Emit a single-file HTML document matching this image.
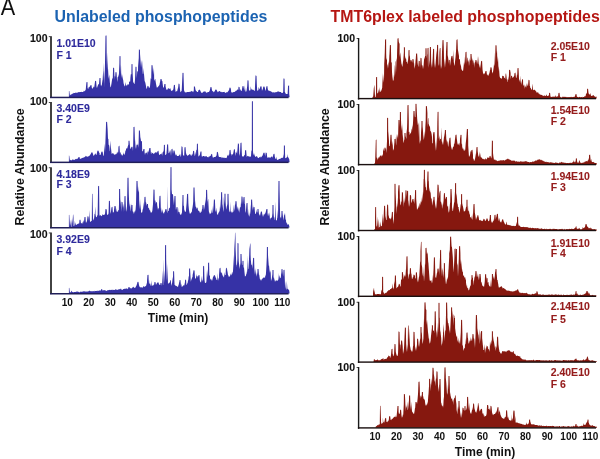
<!DOCTYPE html>
<html><head><meta charset="utf-8"><title>Phosphopeptide chromatograms</title>
<style>html,body{margin:0;padding:0;background:#fff;width:600px;height:459px;overflow:hidden}svg{display:block}</style>
</head><body>
<svg width="600" height="459" viewBox="0 0 600 459"><text transform="translate(0.7,15.4) scale(0.93,1)" style="font-family:'Liberation Sans',Arial,Helvetica,sans-serif;font-size:23.3px" fill="#111">A</text>
<text x="54.6" y="21.6" style="font-family:'Liberation Sans',Arial,Helvetica,sans-serif;font-size:15.9px;font-weight:bold" fill="#1b63b2">Unlabeled phosphopeptides</text>
<text x="330.5" y="21.6" style="font-family:'Liberation Sans',Arial,Helvetica,sans-serif;font-size:15.9px;font-weight:bold" fill="#b51612">TMT6plex labeled phosphopeptides</text>
<path d="M68.9 97.3L68.9 91.0L69.0 91.2L69.0 97.0L69.6 91.0L69.9 91.0L70.0 95.0L70.2 95.2L70.8 94.5L71.4 94.6L72.0 93.7L72.6 93.8L73.2 93.4L73.8 92.7L74.0 93.0L74.4 93.0L75.0 93.0L75.6 92.4L76.2 92.9L76.8 92.5L77.4 92.5L78.0 92.7L78.0 92.4L78.6 92.0L79.2 92.3L79.8 92.1L80.4 92.1L81.0 92.1L81.6 91.8L82.0 92.0L82.2 92.1L82.8 92.1L83.4 91.8L84.0 90.6L84.0 91.6L84.6 91.0L85.2 90.4L85.6 90.0L85.8 88.9L86.4 82.6L86.5 82.0L87.0 82.2L87.5 82.0L87.6 88.7L88.0 88.0L88.2 89.2L88.8 87.1L89.4 87.2L89.6 86.4L90.0 86.4L90.5 85.0L90.6 85.2L91.2 85.3L91.5 85.0L91.8 87.7L92.4 88.6L92.4 89.0L93.0 87.9L93.6 86.7L94.0 86.4L94.2 87.5L94.8 83.3L95.1 81.0L95.4 81.1L96.0 80.7L96.1 81.0L96.6 87.0L97.0 88.0L97.2 87.2L97.8 85.5L98.4 84.6L98.4 84.0L99.0 84.0L99.5 78.0L99.6 78.0L100.2 77.9L100.5 78.0L100.8 85.6L101.4 85.2L101.6 86.4L102.0 83.6L102.5 80.0L102.6 80.2L103.2 70.2L103.5 80.0L103.8 62.4L104.4 82.9L104.4 88.0L105.0 62.8L105.5 35.6L105.6 35.7L106.2 35.5L106.5 35.6L106.8 69.3L107.0 52.0L107.4 60.9L108.0 70.9L108.0 68.0L108.6 78.9L109.2 74.7L109.2 74.0L109.8 81.8L110.4 87.6L110.4 87.6L111.0 86.3L111.6 82.8L112.0 80.0L112.2 79.1L112.8 77.7L113.1 68.0L113.4 67.8L114.0 67.7L114.1 68.0L114.6 79.7L114.8 76.0L115.2 76.7L115.5 72.0L115.8 72.2L116.4 72.3L116.5 72.0L117.0 79.6L117.4 82.0L117.6 77.4L118.2 76.6L118.6 74.0L118.8 77.2L119.4 63.0L119.5 56.0L120.0 56.3L120.5 56.0L120.6 74.1L121.0 64.0L121.2 73.1L121.8 78.1L122.0 74.0L122.4 76.4L123.0 79.5L123.2 80.0L123.6 83.2L124.2 85.2L124.4 86.0L124.8 86.5L125.4 81.9L126.0 86.4L126.0 86.4L126.6 84.9L127.2 85.4L127.6 84.0L127.8 84.6L128.4 84.2L129.0 84.7L129.0 82.0L129.6 81.4L130.2 81.5L130.4 78.0L130.8 74.3L131.4 74.2L131.5 64.0L132.0 64.3L132.5 64.0L132.6 72.7L133.2 82.4L133.2 82.0L133.8 82.9L134.4 83.9L134.6 84.0L135.0 79.7L135.5 67.0L135.6 66.8L136.2 66.7L136.5 67.0L136.8 78.2L137.2 72.0L137.4 71.5L138.0 70.9L138.2 58.0L138.6 66.6L138.9 49.6L139.2 49.7L139.8 49.6L139.9 49.6L140.4 66.3L140.6 54.0L141.0 68.0L141.6 62.5L142.0 60.0L142.2 62.2L142.8 73.7L143.2 74.0L143.4 67.8L144.0 73.7L144.0 74.0L144.6 80.7L145.2 82.4L145.2 82.0L145.8 84.9L146.4 88.4L146.6 89.0L147.0 87.9L147.5 86.0L147.6 85.8L148.2 86.3L148.5 86.0L148.8 87.5L149.4 88.1L149.4 88.0L150.0 86.4L150.6 79.2L150.8 78.0L151.2 79.3L151.5 65.0L151.8 65.2L152.4 65.3L152.5 65.0L153.0 72.0L153.0 67.0L153.6 75.1L154.0 68.0L154.2 81.1L154.8 79.5L155.4 78.8L155.4 80.0L156.0 83.7L156.6 86.7L157.0 88.0L157.2 87.5L157.8 87.0L158.4 86.4L158.4 86.0L159.0 85.8L159.6 84.5L159.6 84.0L160.2 81.2L160.5 79.0L160.8 79.0L161.4 78.9L161.5 79.0L162.0 81.2L162.4 81.0L162.6 83.3L163.2 87.9L163.6 87.0L163.8 87.7L164.4 84.1L164.5 84.0L165.0 84.1L165.5 84.0L165.6 86.6L166.2 88.9L166.4 90.0L166.8 89.4L167.4 89.7L168.0 88.3L168.0 88.0L168.6 88.4L169.2 88.6L169.8 89.0L170.0 89.0L170.0 88.0L170.4 88.5L171.0 90.5L171.6 90.9L171.6 91.0L172.2 90.6L172.8 90.2L173.0 90.0L173.4 88.9L173.9 85.0L174.0 84.7L174.6 85.1L174.9 85.0L175.2 88.6L175.6 92.0L175.8 91.7L176.4 91.1L177.0 91.4L177.2 91.0L177.6 89.3L178.2 87.2L178.5 84.0L178.8 83.6L179.4 84.0L179.5 84.0L180.0 89.7L180.4 92.0L180.6 92.2L181.2 91.3L181.6 91.0L181.8 88.7L182.4 75.7L182.5 73.0L183.0 72.8L183.5 73.0L183.6 77.1L184.0 90.0L184.2 90.8L184.8 92.2L185.4 92.2L185.6 92.4L186.0 92.5L186.6 92.3L187.2 91.9L187.8 92.0L188.0 92.0L188.4 92.0L189.0 92.0L189.6 91.7L190.0 92.0L190.2 91.7L190.8 91.6L191.4 91.2L192.0 90.8L192.0 91.0L192.6 91.8L193.2 91.4L193.2 92.4L193.8 90.4L193.9 86.4L194.4 86.6L194.9 86.4L195.0 86.9L195.6 90.3L195.6 90.0L196.2 91.2L196.8 91.3L197.2 92.0L197.4 91.9L198.0 92.0L198.4 90.4L198.6 90.0L199.2 89.9L199.8 89.5L200.0 89.6L200.4 91.3L201.0 91.7L201.6 93.2L201.6 93.0L202.2 92.7L202.8 92.4L203.2 92.0L203.4 91.6L204.0 91.7L204.6 91.5L205.0 91.0L205.2 91.3L205.8 92.2L206.4 92.6L206.4 93.0L207.0 92.5L207.6 92.2L208.2 92.0L208.4 92.0L208.8 91.9L209.4 91.2L209.6 91.0L210.0 89.6L210.5 87.0L210.6 87.1L211.2 87.3L211.5 87.0L211.8 89.2L212.4 91.6L212.4 91.0L213.0 91.2L213.6 92.1L214.0 92.4L214.2 91.7L214.8 91.1L215.4 89.5L215.5 89.6L216.0 89.7L216.5 89.6L216.6 90.1L217.2 90.9L217.6 92.0L217.8 92.3L218.4 91.8L219.0 91.1L219.6 91.3L220.0 91.0L220.2 91.5L220.8 91.9L221.4 91.8L222.0 92.5L222.0 92.4L222.6 92.0L223.2 92.0L223.8 92.1L224.0 92.0L224.4 91.8L225.0 92.8L225.6 92.7L226.0 93.0L226.2 91.9L226.8 92.6L227.4 92.3L228.0 91.6L228.0 91.6L228.6 90.8L229.2 89.4L229.5 87.6L229.8 87.8L230.4 87.7L230.5 87.6L231.0 89.8L231.2 92.0L231.6 92.4L232.2 92.5L232.8 92.5L233.0 92.4L233.4 92.0L234.0 92.1L234.6 92.0L235.0 91.6L235.2 91.4L235.8 90.8L236.4 90.5L237.0 90.6L237.0 90.0L237.6 89.2L238.2 90.3L238.5 87.0L238.8 86.7L239.4 87.1L239.5 87.0L240.0 90.7L240.0 91.0L240.6 89.1L241.2 91.1L241.6 91.0L241.8 90.5L242.4 86.8L242.5 86.0L243.0 86.3L243.5 86.0L243.6 86.9L244.2 89.7L244.4 91.0L244.8 85.2L245.4 90.7L246.0 92.3L246.0 92.0L246.6 90.4L247.2 85.9L247.5 80.4L247.8 80.2L248.4 80.4L248.5 80.4L249.0 91.1L249.0 91.0L249.6 90.2L250.2 90.4L250.4 90.0L250.8 86.2L251.4 89.7L252.0 89.0L252.0 89.0L252.6 89.9L253.2 89.7L253.6 90.4L253.8 89.4L254.4 91.1L254.8 91.0L255.0 86.6L255.5 75.6L255.6 75.2L256.2 76.0L256.5 75.6L256.8 83.8L257.2 91.0L257.4 90.6L258.0 90.6L258.4 90.0L258.6 86.6L259.2 89.8L259.6 88.0L259.8 89.0L260.4 86.2L260.5 86.4L261.0 86.3L261.5 86.4L261.6 87.0L262.0 91.0L262.2 90.3L262.8 88.9L263.4 86.3L263.5 86.4L264.0 86.7L264.5 86.4L264.6 87.1L265.2 89.7L265.6 91.0L265.8 89.9L266.4 86.6L266.5 86.4L267.0 86.1L267.5 86.4L267.6 88.0L268.0 90.0L268.2 90.3L268.8 90.7L269.4 90.8L270.0 91.2L270.0 91.0L270.6 91.3L271.2 91.4L271.8 92.1L272.0 92.0L272.4 92.2L273.0 92.7L273.6 91.9L274.0 92.6L274.2 92.7L274.8 92.3L275.4 92.3L276.0 92.2L276.0 92.0L276.6 92.2L277.2 91.6L277.8 91.7L278.0 91.4L278.4 91.6L279.0 91.5L279.6 92.0L280.0 92.0L280.2 92.1L280.8 92.0L281.4 92.8L282.0 92.9L282.0 93.0L282.6 92.9L283.2 92.1L283.2 92.0L283.5 78.4L283.8 78.6L284.4 78.7L284.5 78.4L284.8 92.0L285.0 92.3L285.6 93.5L286.0 94.0L286.2 94.0L286.8 93.9L287.4 94.0L287.6 94.0L288.0 87.0L288.1 85.6L288.6 85.7L289.1 85.6L289.2 93.8L289.2 94.0L289.6 97.0L289.6 97.3 Z" fill="#3632a6"/>
<rect x="50.2" y="36.2" width="1.6" height="61.6" fill="#151515"/>
<rect x="50" y="96.7" width="238.6" height="1.5" fill="#201e58"/>
<rect x="48.8" y="36.2" width="1.6" height="0.9" fill="#333"/>
<text x="47.5" y="42.2" text-anchor="end" style="font-family:'Liberation Sans',Arial,Helvetica,sans-serif;font-size:10.5px;font-weight:bold;stroke-width:0.1px" fill="#111" stroke="#111">100</text>
<text x="56.5" y="47.0" style="font-family:'Liberation Sans',Arial,Helvetica,sans-serif;font-size:10.5px;font-weight:bold;stroke-width:0.1px" fill="#2e2a9c" stroke="#2e2a9c">1.01E10</text>
<text x="56.5" y="58.5" style="font-family:'Liberation Sans',Arial,Helvetica,sans-serif;font-size:10.5px;font-weight:bold;stroke-width:0.1px" fill="#2e2a9c" stroke="#2e2a9c">F 1</text>
<path d="M68.9 162.2L68.9 155.6L69.0 155.4L69.0 162.0L69.6 155.9L69.9 155.6L70.0 160.0L70.2 159.8L70.8 160.3L71.4 160.2L72.0 160.3L72.0 160.0L72.6 159.3L73.2 160.1L73.8 159.6L74.4 159.7L75.0 159.9L75.0 159.6L75.6 159.1L76.2 158.7L76.8 159.2L77.0 159.0L77.4 158.8L78.0 158.2L78.5 157.0L78.6 157.2L79.2 157.0L79.5 157.0L79.8 158.4L80.0 159.0L80.4 158.9L81.0 158.2L81.6 158.6L82.0 158.0L82.2 157.7L82.8 158.1L83.4 157.6L84.0 157.4L84.0 157.4L84.6 157.0L85.2 156.7L85.8 155.8L86.0 156.0L86.4 156.3L87.0 156.8L87.6 156.5L88.0 157.0L88.2 156.4L88.8 156.1L89.4 155.6L90.0 155.7L90.0 155.0L90.6 154.2L91.2 153.1L91.5 152.6L91.8 152.3L92.4 152.6L92.5 152.6L93.0 154.3L93.6 155.9L93.6 156.0L94.2 155.2L94.8 154.2L95.0 154.0L95.4 153.2L96.0 154.8L96.4 155.0L96.6 154.6L97.2 151.7L97.5 150.6L97.8 150.8L98.4 150.7L98.5 150.6L99.0 152.4L99.6 153.0L99.6 155.0L100.2 154.7L100.8 154.7L101.0 153.0L101.4 152.0L101.5 151.4L102.0 151.7L102.5 151.4L102.6 151.8L103.2 155.1L103.6 156.0L103.8 156.0L104.4 143.6L105.0 152.7L105.0 153.0L105.6 136.6L106.1 122.0L106.2 122.1L106.8 121.8L107.1 122.0L107.4 126.3L107.6 129.0L108.0 138.8L108.4 139.0L108.6 144.4L109.2 145.6L109.4 147.0L109.8 151.2L110.0 151.0L110.4 140.6L111.0 147.9L111.6 153.8L111.6 154.0L112.2 153.3L112.8 153.4L113.0 153.0L113.4 153.4L114.0 154.5L114.4 155.0L114.6 154.6L115.2 154.2L115.8 154.5L116.0 154.0L116.4 154.2L117.0 152.3L117.6 153.5L117.6 151.4L118.2 152.4L118.5 146.0L118.8 146.4L119.4 145.6L119.5 146.0L120.0 154.3L120.0 153.0L120.6 151.9L121.0 155.0L121.2 155.5L121.8 153.7L122.4 155.9L122.4 156.0L123.0 154.5L123.6 153.5L124.0 152.0L124.2 154.8L124.8 154.4L125.4 150.8L126.0 150.3L126.0 149.0L126.6 148.2L127.2 148.6L127.6 147.0L127.8 146.2L128.4 144.4L128.5 141.0L129.0 140.6L129.5 141.0L129.6 142.0L130.2 148.1L130.4 149.0L130.8 148.4L131.4 146.9L131.5 147.0L132.0 146.6L132.5 147.0L132.6 147.5L133.0 151.0L133.2 142.7L133.5 127.0L133.8 127.0L134.4 126.7L134.5 127.0L135.0 142.3L135.0 139.0L135.6 146.9L136.0 149.0L136.2 147.5L136.5 145.0L136.8 144.6L137.4 145.2L137.5 145.0L138.0 143.3L138.0 148.0L138.6 143.4L138.9 130.6L139.2 130.5L139.8 130.6L139.9 130.6L140.4 139.0L140.4 137.0L141.0 140.9L141.6 141.1L142.0 142.0L142.2 151.2L142.8 151.2L143.0 151.0L143.4 149.2L143.5 149.0L144.0 149.0L144.5 149.0L144.6 152.3L145.0 155.0L145.2 153.9L145.5 153.0L145.8 152.8L146.4 153.2L146.5 153.0L147.0 151.7L147.4 155.0L147.6 151.0L148.2 152.4L148.6 151.0L148.8 150.7L149.4 148.1L149.5 148.0L150.0 147.9L150.5 148.0L150.6 149.7L151.0 154.0L151.2 154.1L151.8 151.8L152.4 153.4L152.4 153.0L153.0 153.0L153.6 154.0L154.0 154.0L154.2 153.6L154.8 152.8L155.4 152.4L155.6 152.0L156.0 152.5L156.6 152.3L157.0 153.0L157.2 152.0L157.5 151.0L157.8 151.4L158.4 150.6L158.5 151.0L159.0 154.2L159.4 155.0L159.6 155.0L160.2 154.3L160.8 153.9L161.0 154.0L161.4 154.4L162.0 152.5L162.4 156.0L162.6 152.4L163.2 151.7L163.6 151.0L163.8 148.9L163.9 145.0L164.4 144.8L164.9 145.0L165.0 150.6L165.2 155.0L165.6 155.0L166.2 154.2L166.4 154.0L166.8 149.6L167.1 144.6L167.4 144.5L168.0 144.3L168.1 144.6L168.6 154.4L168.6 153.0L169.2 152.9L169.5 150.0L169.8 152.3L170.0 152.0L170.4 149.8L170.5 150.0L171.0 156.1L171.0 156.0L171.5 149.0L171.6 149.3L172.2 148.7L172.5 149.0L172.8 152.1L173.0 154.0L173.4 151.4L173.5 150.6L174.0 150.5L174.5 150.6L174.6 151.1L175.2 153.8L175.6 155.0L175.8 155.6L176.4 154.2L177.0 156.3L177.0 156.0L177.6 155.9L178.0 156.0L178.2 155.8L178.8 155.9L179.4 154.9L179.6 155.0L180.0 153.4L180.6 156.3L181.0 157.0L181.2 153.5L181.5 146.6L181.8 146.2L182.4 146.9L182.5 146.6L183.0 155.2L183.0 155.0L183.6 155.6L184.0 156.0L184.2 155.4L184.5 147.0L184.8 147.4L185.4 147.0L185.5 147.0L186.0 153.3L186.0 153.0L186.6 154.8L187.2 155.6L187.6 156.0L187.8 155.6L188.4 155.3L189.0 154.7L189.0 155.0L189.6 154.1L190.0 154.0L190.2 154.3L190.8 155.5L191.4 155.4L191.6 156.0L192.0 153.6L192.4 154.6L192.6 155.3L193.1 151.0L193.2 150.7L193.8 150.9L194.1 151.0L194.4 153.9L194.8 156.0L195.0 156.0L195.6 151.4L196.0 155.0L196.2 150.5L196.8 149.6L196.9 144.0L197.4 143.6L197.9 144.0L198.0 148.6L198.4 156.0L198.6 156.4L199.2 155.9L199.6 155.0L199.8 155.2L200.4 152.1L200.5 152.0L201.0 150.9L201.5 152.0L201.6 155.2L202.0 157.0L202.2 156.6L202.8 156.3L203.4 155.9L203.6 156.0L204.0 155.9L204.6 156.4L205.0 156.6L205.2 156.7L205.8 156.0L206.0 156.0L206.4 156.1L207.0 156.9L207.6 156.9L208.0 157.4L208.2 157.6L208.8 156.5L209.4 156.4L210.0 156.3L210.0 156.0L210.6 155.9L211.1 154.0L211.2 153.8L211.8 154.4L212.1 154.0L212.4 155.9L212.8 157.4L213.0 157.4L213.6 157.4L214.2 157.1L214.4 157.0L214.8 157.1L215.4 156.6L216.0 157.3L216.0 156.0L216.6 155.4L216.9 152.0L217.2 152.3L217.8 151.7L217.9 152.0L218.4 155.0L218.6 156.0L219.0 157.0L219.6 156.9L220.0 157.0L220.2 157.1L220.8 157.2L221.4 156.8L221.6 158.0L222.0 158.2L222.6 157.3L223.0 157.4L223.2 157.8L223.8 157.7L224.4 157.4L224.4 158.2L225.0 157.8L225.6 157.9L226.0 158.0L226.2 158.3L226.8 157.4L227.4 155.1L227.6 156.0L228.0 154.6L228.6 156.3L229.0 154.0L229.2 155.1L229.5 150.0L229.8 150.3L230.4 149.7L230.5 150.0L231.0 154.6L231.2 156.0L231.6 154.1L232.2 154.3L232.8 154.6L232.8 155.0L233.4 152.4L233.9 149.4L234.0 149.7L234.6 149.1L234.9 149.4L235.2 153.9L235.6 156.0L235.8 152.1L236.4 153.2L237.0 150.8L237.0 155.0L237.6 147.7L237.9 143.4L238.2 143.7L238.8 143.5L238.9 143.4L239.4 156.5L239.4 156.0L240.0 153.4L240.5 142.6L240.6 142.9L241.2 142.7L241.5 142.6L241.8 152.5L242.0 156.0L242.4 156.7L243.0 156.0L243.2 157.0L243.6 156.3L244.2 155.4L244.4 155.0L244.8 154.9L245.1 150.0L245.4 150.3L246.0 150.2L246.1 150.0L246.6 155.6L246.8 157.0L247.2 156.3L247.8 155.8L248.0 156.0L248.4 156.2L249.0 156.4L249.0 156.0L249.6 156.8L250.0 157.0L250.2 156.9L250.8 156.2L251.0 156.0L251.4 150.2L251.8 151.0L251.9 101.4L252.0 101.5L252.6 101.1L252.9 101.4L253.0 151.0L253.2 153.2L253.8 155.4L254.0 153.0L254.4 154.8L255.0 156.2L255.6 157.0L255.6 157.0L256.2 156.6L256.8 156.0L257.0 156.0L257.4 157.2L258.0 157.7L258.0 158.0L258.6 157.9L259.2 157.6L259.6 157.0L259.8 157.0L260.4 157.6L261.0 156.1L261.0 157.4L261.6 156.8L262.2 155.7L262.4 156.0L262.8 154.7L263.4 152.9L263.5 152.6L264.0 152.9L264.5 152.6L264.6 153.1L265.2 156.8L265.2 156.0L265.7 152.6L265.8 152.6L266.4 152.9L266.7 152.6L267.0 155.6L267.2 157.0L267.6 158.0L268.2 157.3L268.4 157.4L268.8 157.6L269.4 157.5L270.0 157.6L270.0 158.0L270.6 157.5L271.2 156.2L271.6 157.0L271.8 156.7L272.4 156.5L273.0 158.1L273.0 156.0L273.5 154.0L273.6 154.0L274.2 153.7L274.5 154.0L274.8 156.8L275.2 158.0L275.4 159.0L276.0 158.5L276.6 156.5L276.6 159.0L277.2 159.7L277.8 160.1L278.0 160.0L278.4 159.5L279.0 159.0L279.6 158.8L279.6 159.0L280.2 158.9L280.8 158.2L281.0 158.0L281.4 157.7L282.0 158.2L282.0 158.0L282.6 157.7L283.2 157.6L283.2 157.0L283.8 153.9L283.9 145.4L284.4 145.4L284.9 145.4L285.0 152.0L285.2 158.0L285.6 158.2L286.2 157.8L286.4 157.4L286.8 157.6L287.4 156.8L288.0 154.1L288.0 157.0L288.6 158.1L289.2 158.9L289.2 159.0L289.6 162.0L289.6 162.2 Z" fill="#3632a6"/>
<rect x="50.2" y="102.0" width="1.6" height="60.7" fill="#151515"/>
<rect x="50" y="161.6" width="238.6" height="1.5" fill="#201e58"/>
<rect x="48.8" y="102.0" width="1.6" height="0.9" fill="#333"/>
<text x="47.5" y="105.1" text-anchor="end" style="font-family:'Liberation Sans',Arial,Helvetica,sans-serif;font-size:10.5px;font-weight:bold;stroke-width:0.1px" fill="#111" stroke="#111">100</text>
<text x="56.5" y="112.2" style="font-family:'Liberation Sans',Arial,Helvetica,sans-serif;font-size:10.5px;font-weight:bold;stroke-width:0.1px" fill="#2e2a9c" stroke="#2e2a9c">3.40E9</text>
<text x="56.5" y="123.2" style="font-family:'Liberation Sans',Arial,Helvetica,sans-serif;font-size:10.5px;font-weight:bold;stroke-width:0.1px" fill="#2e2a9c" stroke="#2e2a9c">F 2</text>
<path d="M68.9 227.6L68.9 215.0L69.0 214.7L69.0 227.6L69.6 214.7L69.9 215.0L70.0 227.0L70.2 219.7L70.8 225.7L71.4 218.9L71.6 227.0L72.0 225.8L72.5 214.4L72.6 224.6L72.6 224.0L73.2 214.8L73.5 214.4L73.6 226.0L73.8 226.0L74.4 225.6L75.0 220.2L75.0 225.6L75.6 222.2L76.0 225.0L76.2 224.8L76.8 224.7L77.4 224.1L77.6 224.0L78.0 223.7L78.6 223.7L79.0 223.0L79.2 223.7L79.5 220.0L79.8 219.7L80.4 219.7L80.5 220.0L81.0 223.7L81.0 223.0L81.6 223.2L82.2 223.8L82.8 221.6L83.0 224.0L83.4 220.1L84.0 221.9L84.0 222.0L84.5 217.0L84.6 217.1L85.2 217.0L85.5 217.0L85.8 221.8L86.0 223.0L86.4 222.3L87.0 221.0L87.0 221.0L87.5 216.4L87.6 216.2L88.2 216.5L88.5 216.4L88.8 219.1L89.0 221.0L89.4 210.1L90.0 222.1L90.0 222.0L90.6 221.7L91.0 221.0L91.2 220.8L91.8 221.3L91.9 194.0L92.0 218.0L92.4 193.7L92.9 194.0L93.0 218.1L93.0 218.0L93.6 220.5L94.0 219.0L94.2 217.3L94.5 214.0L94.8 214.0L95.4 206.2L95.5 214.0L96.0 216.9L96.4 217.0L96.6 217.6L97.2 215.4L97.6 215.0L97.8 205.2L98.1 186.0L98.4 186.3L99.0 185.8L99.1 186.0L99.4 214.0L99.6 215.7L100.2 215.2L100.4 215.0L100.8 215.6L101.4 216.2L101.6 216.0L102.0 215.8L102.6 214.1L103.0 215.0L103.2 215.0L103.8 214.8L104.0 215.0L104.4 214.7L105.0 214.1L105.0 214.0L105.5 209.0L105.6 209.0L106.2 209.3L106.5 209.0L106.8 210.5L107.0 215.0L107.4 214.8L108.0 214.6L108.4 214.0L108.6 211.9L108.9 201.0L109.2 200.8L109.8 200.9L109.9 201.0L110.4 214.0L110.4 214.0L111.0 211.4L111.5 207.0L111.6 207.4L112.2 206.7L112.5 207.0L112.8 211.4L113.0 213.0L113.4 212.3L114.0 211.6L114.0 210.0L114.5 206.0L114.6 206.1L115.2 206.0L115.5 206.0L115.8 207.5L116.0 212.0L116.4 211.3L117.0 208.1L117.0 211.0L117.6 211.7L118.0 212.0L118.2 210.3L118.8 210.1L119.0 204.0L119.1 189.0L119.4 189.1L120.0 188.9L120.1 189.0L120.4 204.0L120.6 199.3L121.2 211.7L121.2 212.0L121.5 202.0L121.8 201.7L122.4 202.3L122.5 202.0L123.0 208.1L123.0 208.0L123.6 203.5L124.0 212.0L124.2 207.6L124.5 196.0L124.8 196.3L125.4 196.0L125.5 196.0L126.0 211.7L126.0 212.0L126.6 209.4L127.0 206.0L127.2 195.5L127.5 177.6L127.8 177.9L128.4 177.7L128.5 177.6L128.8 194.0L129.0 199.0L129.6 206.9L130.0 203.0L130.2 205.8L130.8 211.6L131.0 210.0L131.4 203.0L131.5 205.0L132.0 205.1L132.5 205.0L132.6 210.5L133.0 212.0L133.2 211.5L133.8 213.6L134.0 214.0L134.4 210.7L135.0 212.8L135.0 212.0L135.6 209.6L136.0 204.0L136.2 194.9L136.5 181.0L136.8 181.1L137.4 180.9L137.5 181.0L138.0 191.5L138.0 186.0L138.6 192.4L139.0 190.0L139.2 200.2L139.8 209.2L140.0 204.0L140.4 210.5L141.0 198.4L141.0 213.0L141.6 212.5L142.0 212.0L142.2 212.4L142.8 208.6L143.0 210.0L143.4 202.0L144.0 208.4L144.0 206.0L144.5 197.0L144.6 196.9L145.2 196.8L145.5 197.0L145.8 202.4L146.0 202.0L146.4 204.0L147.0 205.9L147.0 204.0L147.6 204.1L148.0 204.0L148.2 208.6L148.8 207.4L149.0 208.0L149.4 209.7L150.0 210.4L150.0 210.0L150.6 212.0L151.0 213.0L151.2 212.5L151.8 212.2L152.0 212.0L152.4 210.2L153.0 204.0L153.0 204.0L153.5 189.6L153.6 189.4L154.2 189.8L154.5 189.6L154.8 201.0L155.0 200.0L155.4 201.0L156.0 204.2L156.0 202.0L156.6 202.4L157.0 202.0L157.2 205.3L157.8 208.8L158.0 210.0L158.4 208.4L159.0 207.8L159.0 204.0L159.5 196.0L159.6 196.0L160.2 195.7L160.5 196.0L160.8 207.4L161.0 210.0L161.4 213.2L162.0 206.9L162.0 213.0L162.6 208.9L163.0 212.0L163.2 212.7L163.8 213.4L164.0 214.0L164.4 212.1L165.0 211.5L165.0 211.0L165.5 209.0L165.6 209.1L166.2 209.3L166.5 209.0L166.8 211.1L167.0 212.0L167.4 212.9L168.0 185.9L168.0 211.0L168.6 210.9L169.0 208.0L169.2 207.8L169.8 208.6L170.0 207.0L170.0 210.0L170.4 177.2L170.5 167.0L171.0 167.3L171.5 167.0L171.6 189.6L172.0 194.0L172.2 194.2L172.8 194.3L173.0 194.0L173.4 199.6L174.0 205.6L174.0 204.0L174.5 196.0L174.6 196.1L175.2 195.9L175.5 196.0L175.8 208.9L176.0 210.0L176.4 208.0L176.5 207.0L177.0 207.3L177.5 207.0L177.6 208.7L178.0 214.0L178.2 207.3L178.5 212.0L178.8 211.7L179.4 212.3L179.5 212.0L180.0 214.4L180.0 214.0L180.6 214.7L181.0 215.0L181.2 214.4L181.8 213.1L182.0 212.0L182.4 199.8L182.5 195.0L183.0 194.9L183.5 195.0L183.6 205.5L184.0 206.0L184.2 209.5L184.8 211.3L185.0 212.0L185.4 211.7L186.0 211.3L186.0 210.0L186.6 203.0L187.1 193.6L187.2 193.9L187.8 193.9L188.1 193.6L188.4 203.2L188.6 206.0L189.0 210.2L189.6 213.1L190.0 214.0L190.2 213.6L190.8 213.2L191.0 213.0L191.4 212.2L192.0 211.3L192.0 210.0L192.6 207.0L193.0 204.0L193.2 201.4L193.5 187.6L193.8 187.6L194.4 187.4L194.5 187.6L195.0 203.0L195.0 200.0L195.6 206.4L196.0 207.0L196.2 209.3L196.8 207.3L197.4 207.7L197.6 208.0L198.0 210.2L198.6 210.7L199.0 211.0L199.2 210.9L199.8 212.4L200.0 213.0L200.4 213.0L201.0 211.3L201.0 212.0L201.6 211.5L202.0 209.0L202.2 209.3L202.5 205.0L202.8 205.1L203.4 205.1L203.5 205.0L204.0 211.1L204.0 210.0L204.6 206.5L205.0 204.0L205.2 202.9L205.8 199.3L206.0 196.0L206.1 190.0L206.4 189.7L207.0 190.0L207.1 190.0L207.6 206.3L207.6 202.0L208.2 198.5L208.8 210.6L209.0 212.0L209.4 212.7L210.0 214.4L210.0 214.0L210.6 213.4L211.0 213.0L211.2 208.9L211.8 213.2L212.0 213.0L212.4 212.6L213.0 205.8L213.0 212.0L213.6 205.0L213.9 199.6L214.2 199.8L214.8 199.3L214.9 199.6L215.4 211.4L215.6 210.0L216.0 212.6L216.6 207.4L217.0 214.0L217.2 214.2L217.8 214.8L218.0 215.0L218.4 211.9L219.0 213.3L219.0 212.0L219.6 211.1L220.0 206.0L220.2 209.3L220.8 200.2L221.0 199.0L221.1 192.0L221.4 192.3L222.0 192.3L222.1 192.0L222.4 204.0L222.6 204.9L223.2 210.0L223.6 212.0L223.8 196.5L224.4 204.2L224.4 204.0L224.5 194.0L225.0 193.6L225.5 194.0L225.6 201.9L226.0 208.0L226.2 209.8L226.8 206.2L227.0 206.0L227.4 203.7L227.5 194.0L228.0 193.7L228.5 194.0L228.6 199.0L229.0 208.0L229.2 210.5L229.8 212.3L230.0 212.0L230.4 211.2L231.0 201.4L231.0 211.0L231.6 212.2L232.0 213.0L232.2 212.5L232.8 212.1L233.4 204.3L233.6 212.0L234.0 211.3L234.6 208.3L235.0 204.0L235.2 205.1L235.5 201.0L235.8 201.2L236.4 201.3L236.5 201.0L237.0 209.3L237.0 206.0L237.6 208.1L238.0 210.0L238.2 211.2L238.8 207.0L239.0 213.0L239.4 210.9L240.0 207.1L240.0 207.0L240.6 207.4L241.0 202.0L241.2 204.6L241.5 196.4L241.8 196.6L242.4 196.8L242.5 196.4L243.0 204.7L243.0 204.0L243.5 197.0L243.6 197.3L244.2 197.0L244.5 197.0L244.8 203.9L245.0 204.0L245.4 211.1L246.0 213.1L246.0 210.0L246.5 203.0L246.6 203.2L247.2 203.0L247.5 203.0L247.8 212.0L248.0 214.0L248.4 216.0L249.0 208.5L249.0 217.0L249.6 215.2L250.0 212.0L250.2 214.4L250.8 206.1L251.0 204.0L251.1 199.6L251.4 199.5L252.0 199.8L252.1 199.6L252.4 206.0L252.6 210.8L253.2 204.8L253.2 210.0L253.5 207.0L253.8 207.2L254.4 207.0L254.5 207.0L255.0 212.8L255.0 213.0L255.6 214.0L256.0 214.0L256.2 209.2L256.8 212.4L257.0 212.0L257.4 212.8L257.5 209.0L258.0 208.9L258.5 209.0L258.6 210.7L259.0 214.0L259.2 214.3L259.8 215.5L260.0 216.0L260.4 213.8L261.0 211.3L261.0 211.0L261.6 211.7L262.0 212.0L262.2 213.7L262.8 216.0L263.0 217.0L263.4 215.7L264.0 213.7L264.0 214.0L264.6 214.8L265.0 213.0L265.2 213.7L265.8 211.8L266.0 211.0L266.4 209.1L266.5 209.0L267.0 209.2L267.5 209.0L267.6 216.0L268.0 213.0L268.2 213.3L268.8 215.8L269.0 216.0L269.4 211.9L270.0 219.6L270.0 220.0L270.6 218.1L271.0 218.0L271.2 217.9L271.8 217.2L272.0 217.0L272.4 213.2L272.5 205.0L273.0 205.0L273.5 205.0L273.6 213.0L274.0 218.0L274.2 216.6L274.8 220.0L275.0 220.0L275.4 201.5L276.0 221.1L276.0 221.0L276.6 220.1L277.0 220.0L277.2 209.5L277.8 218.6L278.0 218.0L278.4 188.1L278.5 181.0L279.0 180.9L279.5 181.0L279.6 190.8L280.0 210.0L280.2 217.2L280.8 217.5L281.0 219.0L281.4 215.1L281.5 211.0L282.0 210.9L282.5 211.0L282.6 213.2L283.0 217.0L283.2 217.4L283.8 220.6L284.0 214.0L284.4 215.8L285.0 212.6L285.0 213.0L285.6 220.3L286.0 219.0L286.2 223.7L286.8 222.0L287.0 223.0L287.4 224.7L288.0 224.4L288.0 224.0L288.6 224.5L289.0 225.0L289.2 226.1L289.6 227.6L289.6 227.6 Z" fill="#3632a6"/>
<rect x="50.2" y="167.3" width="1.6" height="60.8" fill="#151515"/>
<rect x="50" y="227.0" width="238.6" height="1.5" fill="#201e58"/>
<rect x="48.8" y="167.3" width="1.6" height="0.9" fill="#333"/>
<text x="47.5" y="172.1" text-anchor="end" style="font-family:'Liberation Sans',Arial,Helvetica,sans-serif;font-size:10.5px;font-weight:bold;stroke-width:0.1px" fill="#111" stroke="#111">100</text>
<text x="56.5" y="177.5" style="font-family:'Liberation Sans',Arial,Helvetica,sans-serif;font-size:10.5px;font-weight:bold;stroke-width:0.1px" fill="#2e2a9c" stroke="#2e2a9c">4.18E9</text>
<text x="56.5" y="188.2" style="font-family:'Liberation Sans',Arial,Helvetica,sans-serif;font-size:10.5px;font-weight:bold;stroke-width:0.1px" fill="#2e2a9c" stroke="#2e2a9c">F 3</text>
<path d="M68.9 293.6L68.9 288.0L69.0 288.1L69.0 293.4L69.6 287.8L69.9 288.0L70.0 292.6L70.2 292.2L70.8 292.3L71.4 290.6L72.0 291.8L72.0 292.2L72.6 291.8L73.2 292.4L73.8 292.0L74.0 292.0L74.4 292.0L75.0 292.1L75.6 292.0L76.0 291.8L76.2 291.7L76.8 291.4L77.4 291.8L78.0 291.3L78.0 291.6L78.6 292.0L79.2 292.2L79.8 292.3L80.0 292.0L80.4 291.7L81.0 291.6L81.6 292.1L82.0 291.6L82.2 291.3L82.8 291.9L83.4 291.3L84.0 291.2L84.0 291.4L84.6 291.2L85.2 291.5L85.8 291.5L86.0 291.8L86.4 291.5L87.0 291.6L87.6 291.5L88.0 291.4L88.2 291.4L88.8 291.0L89.4 290.8L90.0 290.7L90.0 291.0L90.6 291.2L91.2 291.2L91.8 291.3L92.0 291.2L92.4 291.3L93.0 291.2L93.6 291.1L94.0 291.4L94.2 291.4L94.8 290.8L95.4 291.0L96.0 290.9L96.0 291.0L96.6 291.0L97.2 290.6L97.8 291.2L98.0 290.8L98.4 291.0L99.0 290.5L99.6 290.4L100.0 290.6L100.2 290.6L100.8 290.5L101.0 290.2L101.1 289.0L101.4 289.2L102.0 289.3L102.1 289.0L102.4 290.6L102.6 290.5L103.2 290.2L103.8 290.3L104.0 290.2L104.4 290.1L105.0 290.5L105.6 290.3L106.0 291.0L106.2 290.9L106.8 290.8L107.4 290.6L108.0 289.8L108.0 290.0L108.6 290.3L109.2 290.0L109.8 289.8L110.0 290.2L110.4 289.8L111.0 290.2L111.6 289.7L112.0 289.8L112.2 289.5L112.8 290.2L113.4 289.7L114.0 289.9L114.0 290.0L114.6 290.1L115.2 289.5L115.8 289.2L116.0 289.6L116.4 289.4L117.0 289.9L117.6 289.8L118.0 289.8L118.2 289.3L118.8 289.5L119.4 289.2L120.0 289.1L120.0 289.4L120.6 288.8L121.0 288.6L121.2 289.1L121.8 290.0L122.0 290.0L122.4 289.9L123.0 289.2L123.6 289.1L124.0 289.0L124.2 288.6L124.8 288.9L125.4 288.8L126.0 288.5L126.0 288.6L126.6 288.6L127.2 288.5L127.8 289.2L128.0 289.0L128.4 287.3L128.5 287.0L129.0 287.2L129.5 287.0L129.6 287.3L130.0 288.6L130.2 287.8L130.8 288.5L131.4 288.3L132.0 288.6L132.0 288.2L132.6 287.2L133.0 287.0L133.2 287.3L133.8 286.6L134.0 288.0L134.4 288.0L135.0 287.2L135.6 287.7L136.0 286.0L136.2 286.3L136.8 284.6L137.0 284.0L137.4 282.2L137.5 282.0L138.0 281.8L138.5 282.0L138.6 282.7L139.0 285.0L139.2 285.7L139.8 287.2L140.0 287.0L140.4 287.4L141.0 287.2L141.0 287.4L141.6 286.9L142.0 288.0L142.2 287.4L142.8 287.4L143.0 287.0L143.4 286.4L144.0 285.8L144.0 286.0L144.6 286.9L145.0 287.0L145.2 285.9L145.8 286.3L146.0 286.0L146.4 284.7L147.0 282.4L147.0 281.0L147.5 274.6L147.6 275.0L148.2 274.9L148.5 274.6L148.8 283.7L149.0 279.0L149.4 284.3L150.0 283.0L150.0 283.0L150.6 285.3L151.0 286.0L151.2 285.9L151.8 280.3L152.0 285.0L152.4 285.4L153.0 286.0L153.0 286.0L153.6 284.6L154.0 285.0L154.2 284.0L154.5 282.0L154.8 281.9L155.4 282.2L155.5 282.0L156.0 285.2L156.0 285.0L156.6 283.7L157.0 283.0L157.2 282.8L157.8 282.6L158.0 282.0L158.4 282.6L159.0 284.0L159.0 284.0L159.6 285.0L160.0 285.0L160.2 284.9L160.5 283.0L160.8 282.9L161.4 282.9L161.5 283.0L162.0 286.1L162.0 286.0L162.6 270.2L163.0 285.0L163.2 285.3L163.8 259.0L164.0 283.0L164.4 277.0L165.0 270.1L165.0 259.0L165.1 245.0L165.6 245.3L166.1 245.0L166.2 265.2L166.2 259.0L166.8 278.6L167.0 281.0L167.4 263.5L168.0 284.4L168.0 284.0L168.6 283.2L169.0 283.0L169.2 282.9L169.8 282.3L170.0 282.0L170.0 282.0L170.4 280.4L171.0 279.8L171.0 286.0L171.6 284.3L172.0 283.0L172.2 282.4L172.8 276.7L173.0 279.0L173.1 271.4L173.4 271.0L174.0 271.4L174.1 271.4L174.4 281.0L174.6 284.7L175.2 285.5L175.2 285.0L175.8 286.0L176.0 286.0L176.4 286.2L177.0 285.8L177.0 286.0L177.6 286.9L178.0 287.0L178.2 285.9L178.8 284.2L179.0 283.0L179.4 281.5L179.5 280.0L180.0 280.2L180.5 280.0L180.6 281.5L181.0 286.0L181.2 283.2L181.8 287.0L182.0 287.0L182.4 286.4L183.0 285.7L183.0 286.0L183.6 285.2L184.0 285.0L184.2 285.8L184.8 283.1L185.0 282.0L185.1 280.0L185.4 279.6L186.0 279.9L186.1 280.0L186.4 285.0L186.6 285.1L187.2 283.6L187.6 283.0L187.8 281.7L188.4 279.2L188.6 277.0L189.0 275.7L189.1 268.4L189.6 268.6L190.1 268.4L190.2 270.9L190.6 278.0L190.8 281.7L191.4 279.6L191.6 279.0L192.0 278.0L192.6 276.5L192.6 275.0L193.2 272.3L193.5 270.0L193.8 270.4L194.4 270.4L194.5 270.0L195.0 277.8L195.0 278.0L195.6 278.4L196.0 279.0L196.2 273.9L196.8 276.7L197.0 276.0L197.4 276.1L198.0 277.9L198.0 277.0L198.5 275.0L198.6 275.2L199.2 275.3L199.5 275.0L199.8 279.9L200.0 281.0L200.4 281.9L201.0 282.6L201.0 283.0L201.6 275.8L202.0 282.0L202.2 280.9L202.8 279.3L203.0 275.0L203.1 266.0L203.4 265.7L204.0 266.4L204.1 266.0L204.4 277.0L204.6 280.6L205.0 283.0L205.2 282.8L205.8 282.9L206.0 283.0L206.4 281.6L207.0 270.2L207.0 278.0L207.6 272.4L208.0 269.0L208.1 262.6L208.2 262.8L208.8 262.7L209.1 262.6L209.4 276.5L209.4 275.0L210.0 276.1L210.0 278.0L210.6 279.8L211.0 279.0L211.2 279.2L211.8 280.6L212.0 281.0L212.4 279.8L213.0 277.1L213.0 277.0L213.6 276.2L214.0 275.0L214.2 275.1L214.8 275.6L215.0 275.4L215.4 276.7L216.0 278.3L216.0 278.0L216.6 279.9L217.0 280.0L217.2 280.2L217.8 272.9L218.0 281.0L218.4 279.1L219.0 277.6L219.0 275.0L219.5 268.0L219.6 268.4L220.2 267.7L220.5 268.0L220.8 272.7L221.0 272.0L221.4 273.5L222.0 271.9L222.0 273.0L222.6 276.1L223.0 275.0L223.2 276.6L223.8 277.0L224.0 278.0L224.4 272.0L225.0 276.0L225.0 275.0L225.6 275.1L225.9 268.0L226.0 270.0L226.2 268.0L226.8 267.8L226.9 268.0L227.4 271.7L227.4 271.0L228.0 274.9L228.2 275.0L228.6 276.3L229.0 277.0L229.2 276.7L229.8 276.2L230.0 276.0L230.4 273.3L231.0 275.8L231.0 274.0L231.6 275.6L232.0 272.0L232.2 271.7L232.8 274.2L233.0 271.0L233.4 254.7L234.0 271.0L234.0 267.0L234.5 232.6L234.6 257.0L234.6 249.0L235.2 232.9L235.5 232.6L235.6 249.0L235.8 253.1L236.4 267.6L236.6 265.0L237.0 264.5L237.4 259.0L237.5 243.4L237.6 243.1L238.2 243.3L238.5 243.4L238.6 257.0L238.8 261.5L239.4 266.7L239.6 269.0L240.0 266.0L240.4 263.0L240.5 254.0L240.6 253.9L241.2 254.0L241.5 254.0L241.8 262.3L242.0 265.0L242.4 264.7L242.5 261.0L243.0 260.7L243.5 261.0L243.6 267.9L244.0 267.0L244.2 269.4L244.8 275.1L245.0 277.0L245.4 275.8L246.0 276.0L246.0 275.0L246.6 273.5L247.0 271.0L247.2 255.3L247.8 272.6L248.0 269.0L248.4 268.7L249.0 259.3L249.0 259.0L249.5 243.4L249.6 261.1L249.6 249.0L250.2 243.6L250.5 243.4L250.6 255.0L250.8 259.5L251.4 265.9L251.4 265.0L252.0 264.4L252.0 269.0L252.6 265.1L252.8 263.0L253.1 258.0L253.2 257.8L253.8 258.1L254.1 258.0L254.4 269.6L254.4 269.0L255.0 274.8L255.0 275.0L255.6 268.0L256.0 274.0L256.2 276.7L256.8 273.8L257.0 272.0L257.4 274.7L257.5 269.0L258.0 268.9L258.5 269.0L258.6 270.0L259.0 275.0L259.2 274.6L259.8 278.8L260.0 279.0L260.4 279.6L261.0 280.8L261.0 281.0L261.6 279.5L262.0 279.0L262.2 279.2L262.8 278.1L263.0 278.0L263.4 277.8L264.0 277.3L264.0 277.0L264.6 277.8L265.0 278.0L265.2 276.3L265.8 275.1L266.0 273.0L266.4 265.9L266.8 257.0L266.9 247.0L267.0 247.1L267.6 247.1L267.9 247.0L268.0 255.0L268.2 258.2L268.8 266.3L269.0 265.0L269.4 269.2L270.0 273.1L270.0 273.0L270.6 270.2L271.0 281.0L271.2 280.5L271.8 278.5L272.0 277.0L272.4 274.1L272.5 270.0L273.0 270.1L273.5 270.0L273.6 278.4L274.0 277.0L274.2 278.7L274.8 280.8L275.0 282.0L275.4 281.1L276.0 280.3L276.0 280.0L276.6 280.6L277.0 281.0L277.2 280.8L277.8 280.5L278.0 280.0L278.4 279.4L279.0 272.8L279.0 279.0L279.6 275.0L280.0 277.0L280.2 277.8L280.8 278.2L281.0 275.0L281.4 272.2L281.5 269.0L282.0 269.3L282.5 269.0L282.6 271.3L283.0 275.0L283.2 276.6L283.5 270.0L283.8 270.1L284.4 269.7L284.5 270.0L285.0 285.9L285.0 281.0L285.6 287.1L285.6 287.0L286.2 290.1L286.6 288.0L286.8 280.8L287.4 288.8L288.0 289.0L288.0 289.0L288.6 289.7L289.0 290.0L289.2 290.5L289.6 293.4L289.6 293.6 Z" fill="#3632a6"/>
<rect x="50.2" y="232.5" width="1.6" height="61.6" fill="#151515"/>
<rect x="50" y="293.0" width="238.6" height="1.5" fill="#201e58"/>
<rect x="48.8" y="232.5" width="1.6" height="0.9" fill="#333"/>
<text x="47.5" y="237.7" text-anchor="end" style="font-family:'Liberation Sans',Arial,Helvetica,sans-serif;font-size:10.5px;font-weight:bold;stroke-width:0.1px" fill="#111" stroke="#111">100</text>
<text x="56.5" y="243.2" style="font-family:'Liberation Sans',Arial,Helvetica,sans-serif;font-size:10.5px;font-weight:bold;stroke-width:0.1px" fill="#2e2a9c" stroke="#2e2a9c">3.92E9</text>
<text x="56.5" y="254.5" style="font-family:'Liberation Sans',Arial,Helvetica,sans-serif;font-size:10.5px;font-weight:bold;stroke-width:0.1px" fill="#2e2a9c" stroke="#2e2a9c">F 4</text>
<path d="M372.0 98.5L372.0 97.2L372.0 98.4L372.6 97.3L373.0 96.4L373.2 96.6L373.8 88.3L374.4 84.7L375.0 96.0L375.0 97.3L375.6 96.9L376.0 94.0L376.1 77.0L376.2 77.3L376.8 77.1L377.1 77.0L377.2 92.0L377.4 93.5L378.0 93.0L378.0 93.6L378.6 89.1L379.0 92.4L379.2 91.9L379.8 87.0L380.0 91.6L380.4 92.2L381.0 90.0L381.0 91.3L381.6 89.7L382.0 88.4L382.2 87.7L382.8 72.7L383.0 83.0L383.4 79.7L383.6 74.0L384.0 80.5L384.2 64.0L384.6 56.4L384.8 52.0L385.1 39.0L385.2 39.4L385.8 39.4L386.1 39.0L386.2 54.0L386.4 60.2L387.0 58.0L387.0 69.1L387.6 64.0L387.6 65.6L388.2 62.8L388.4 61.0L388.8 68.4L389.4 54.0L389.4 55.4L389.9 45.0L390.0 45.3L390.6 44.9L390.9 45.0L391.2 60.0L391.2 61.8L391.8 62.9L392.0 72.0L392.4 76.7L393.0 81.0L393.0 81.1L393.6 80.0L394.0 74.0L394.2 77.4L394.8 65.8L395.0 65.0L395.4 75.1L395.6 62.0L396.0 60.7L396.4 58.0L396.6 72.3L397.2 48.0L397.2 49.5L397.5 38.4L397.8 38.5L398.4 38.1L398.5 38.4L398.8 42.0L399.0 42.5L399.6 44.0L399.6 57.3L400.2 52.3L400.4 54.0L400.8 58.3L401.0 60.0L401.4 63.4L401.6 64.0L402.0 65.7L402.4 67.0L402.6 65.1L403.2 60.0L403.2 61.5L403.8 52.0L403.8 60.8L403.9 47.0L404.4 47.4L404.9 47.0L405.0 58.8L405.2 56.0L405.6 59.1L406.0 58.0L406.2 61.7L406.8 62.0L406.8 58.2L407.4 63.7L407.6 64.0L408.0 61.0L408.4 56.0L408.5 50.0L408.6 50.2L409.2 49.9L409.5 50.0L409.6 56.0L409.8 55.2L410.4 62.0L410.4 63.0L410.5 60.0L411.0 60.2L411.5 60.0L411.6 60.8L412.0 62.0L412.2 62.8L412.5 59.0L412.8 58.9L413.4 59.2L413.5 59.0L414.0 64.0L414.0 62.3L414.6 69.0L414.6 68.7L415.2 65.1L415.6 60.0L415.8 58.4L416.1 53.6L416.4 53.8L417.0 53.2L417.1 53.6L417.4 58.0L417.6 62.7L418.2 66.9L418.4 66.0L418.7 61.0L418.8 60.7L419.4 61.1L419.7 61.0L420.0 68.0L420.0 68.6L420.5 58.0L420.6 57.8L421.2 58.3L421.5 58.0L421.8 64.2L422.0 66.0L422.4 64.8L423.0 69.0L423.0 69.2L423.6 65.2L424.0 60.0L424.2 56.8L424.8 59.6L425.0 56.0L425.4 56.1L425.5 48.0L426.0 48.4L426.5 48.0L426.6 52.0L426.6 58.6L427.2 53.6L427.4 66.0L427.5 48.0L427.8 48.2L428.4 47.7L428.5 48.0L428.8 68.0L429.0 65.6L429.6 60.0L429.6 61.6L429.9 47.0L430.2 46.9L430.8 47.0L430.9 47.0L431.2 62.0L431.4 64.0L432.0 68.0L432.0 68.1L432.6 59.6L432.8 56.0L433.1 49.0L433.2 48.8L433.8 49.1L434.1 49.0L434.2 58.0L434.4 62.7L435.0 68.0L435.0 68.3L435.6 63.7L436.0 58.0L436.2 56.1L436.8 50.0L436.8 53.7L437.1 45.0L437.4 44.9L438.0 44.7L438.1 45.0L438.2 54.0L438.6 64.2L439.0 66.0L439.2 63.1L439.5 48.0L439.6 52.0L439.8 48.3L440.4 47.9L440.5 48.0L440.6 64.0L441.0 69.0L441.0 68.9L441.6 65.7L442.0 52.0L442.2 48.0L442.5 40.4L442.8 40.1L443.4 40.1L443.5 40.4L443.8 48.0L444.0 58.2L444.4 62.0L444.6 64.0L445.0 68.0L445.2 65.0L445.8 59.1L446.0 52.0L446.4 44.7L446.5 42.0L447.0 42.0L447.5 42.0L447.6 50.0L447.6 55.1L448.2 57.9L448.4 64.0L448.7 60.0L448.8 59.6L449.4 59.9L449.7 60.0L450.0 66.0L450.0 65.9L450.6 61.4L451.0 58.0L451.2 57.4L451.5 56.0L451.8 56.0L452.4 55.7L452.5 56.0L453.0 60.0L453.0 60.5L453.6 49.8L453.8 62.0L454.2 64.4L454.6 66.0L454.8 64.0L455.4 58.0L455.4 58.7L456.0 51.3L456.2 48.0L456.5 39.6L456.6 39.9L457.2 39.3L457.5 39.6L457.8 48.0L457.8 49.1L458.4 52.4L459.0 56.0L459.0 59.2L459.6 59.0L460.0 60.0L460.2 63.5L460.8 65.4L461.0 66.0L461.4 69.2L462.0 70.0L462.0 69.9L462.6 71.0L463.0 71.0L463.2 70.0L463.8 64.5L464.0 62.0L464.4 65.0L465.0 56.0L465.0 63.6L465.5 52.0L465.6 52.3L466.2 51.7L466.5 52.0L466.8 64.0L467.0 58.0L467.4 57.6L468.0 62.0L468.0 62.3L468.6 59.8L469.0 66.0L469.2 64.7L469.8 57.9L470.0 60.0L470.4 60.8L470.5 54.0L471.0 54.1L471.5 54.0L471.6 55.5L472.0 60.0L472.2 61.0L472.8 57.9L473.0 66.0L473.1 64.0L473.4 59.6L474.0 63.8L474.1 64.0L474.4 68.0L474.6 62.9L475.2 62.0L475.2 62.3L475.5 60.0L475.8 59.9L476.4 60.2L476.5 60.0L477.0 64.0L477.0 64.4L477.6 60.9L478.0 56.0L478.0 56.0L478.2 57.4L478.8 64.5L479.0 64.0L479.4 66.0L480.0 68.0L480.0 69.1L480.6 65.3L480.8 64.0L481.1 61.0L481.2 60.7L481.8 61.2L482.1 61.0L482.4 66.9L482.6 70.0L483.0 72.7L483.6 74.0L483.6 74.2L484.2 74.2L484.6 73.0L484.8 73.5L485.4 71.5L485.5 71.0L486.0 70.9L486.5 71.0L486.6 72.1L487.0 75.0L487.2 75.6L487.8 74.0L488.0 76.0L488.4 75.5L489.0 74.0L489.0 74.3L489.6 72.2L490.0 70.0L490.2 70.1L490.5 67.0L490.8 67.4L491.4 67.4L491.5 67.0L492.0 71.0L492.0 73.7L492.6 72.2L493.0 72.0L493.2 70.7L493.8 66.5L494.0 64.0L494.4 66.2L495.0 52.0L495.0 64.3L495.5 45.0L495.6 45.2L496.2 45.4L496.5 45.0L496.8 53.5L497.0 50.0L497.4 62.2L498.0 56.0L498.0 57.1L498.6 71.2L498.8 66.0L499.2 70.8L499.6 76.0L499.8 77.0L500.4 78.2L500.8 78.0L501.0 78.2L501.6 78.5L502.0 79.0L502.2 75.5L502.7 76.0L502.8 76.1L503.4 76.1L503.7 76.0L504.0 77.7L504.4 78.0L504.6 77.3L505.2 79.2L505.6 74.0L505.8 73.7L506.0 73.0L506.4 75.7L506.8 79.0L507.0 80.3L507.6 82.0L507.6 79.1L508.2 79.9L508.6 76.0L508.8 79.4L509.1 70.0L509.4 69.8L510.0 70.1L510.1 70.0L510.6 73.0L510.6 79.4L511.2 75.6L511.8 76.0L512.0 76.0L512.4 77.4L513.0 78.0L513.0 77.6L513.6 77.0L514.0 76.0L514.2 76.1L514.5 73.0L514.8 73.2L515.4 72.6L515.5 73.0L516.0 78.0L516.0 77.9L516.6 77.5L517.0 74.0L517.2 75.7L517.5 68.0L517.8 68.2L518.4 68.0L518.5 68.0L518.8 74.0L519.0 79.1L519.6 80.6L520.0 82.0L520.2 75.5L520.8 83.4L521.0 81.0L521.4 85.1L522.0 80.0L522.0 80.2L522.6 79.0L523.0 79.0L523.2 86.1L523.8 85.0L524.0 84.0L524.4 85.8L525.0 89.0L525.0 85.0L525.6 87.6L526.0 86.0L526.2 88.0L526.8 82.9L527.0 85.0L527.4 86.3L528.0 83.0L528.0 86.2L528.5 80.0L528.6 79.8L529.2 80.2L529.5 80.0L529.8 86.0L530.0 86.0L530.4 88.3L531.0 88.0L531.0 89.3L531.6 89.8L532.0 89.0L532.2 83.5L532.8 87.6L533.0 90.0L533.4 90.2L534.0 89.6L534.0 89.3L534.6 89.9L535.0 90.0L535.2 90.2L535.8 91.3L536.0 91.0L536.4 92.1L537.0 93.0L537.0 93.1L537.6 92.3L538.0 92.0L538.2 92.6L538.8 94.0L539.0 93.0L539.4 94.4L540.0 94.0L540.0 94.3L540.6 94.8L541.0 95.0L541.2 94.9L541.8 94.7L542.0 95.0L542.4 95.3L543.0 96.0L543.0 95.8L543.6 96.1L544.0 95.6L544.2 95.3L544.8 95.7L545.0 96.0L545.4 95.7L546.0 96.0L546.0 95.9L546.6 94.3L547.0 95.6L547.2 96.1L547.8 95.9L548.0 96.0L548.4 95.7L549.0 95.0L549.0 96.4L549.1 93.0L549.6 92.8L550.1 93.0L550.2 94.0L550.4 96.0L550.8 97.1L551.2 97.0L551.4 96.7L552.0 97.0L552.0 96.6L552.6 96.7L553.2 96.9L553.8 96.3L554.0 96.6L554.4 96.6L555.0 97.0L555.6 94.9L556.0 97.0L556.2 96.6L556.8 96.8L557.4 96.4L558.0 96.0L558.0 96.9L558.5 93.0L558.6 93.0L559.2 92.8L559.5 93.0L559.8 95.2L560.0 97.0L560.4 96.8L561.0 97.5L561.6 97.6L562.0 97.2L562.2 97.3L562.8 96.4L563.4 96.8L564.0 97.0L564.0 97.1L564.6 96.8L565.2 96.7L565.8 96.9L566.0 97.2L566.4 96.8L567.0 97.4L567.6 97.1L568.0 97.0L568.2 97.1L568.8 97.2L569.4 97.1L570.0 97.2L570.0 97.3L570.6 97.1L571.2 96.7L571.8 97.3L572.0 97.0L572.4 97.1L573.0 97.2L573.6 96.8L574.0 97.0L574.2 96.7L574.8 96.8L575.0 96.0L575.4 94.8L575.5 94.0L576.0 94.3L576.5 94.0L576.6 95.1L577.0 97.0L577.2 97.1L577.8 96.8L578.0 97.2L578.4 97.3L579.0 97.3L579.6 96.7L580.0 97.0L580.2 97.4L580.8 97.1L581.4 97.0L582.0 97.2L582.0 96.4L582.6 97.5L583.2 96.9L583.8 96.9L584.0 97.0L584.4 96.4L585.0 96.0L585.0 96.6L585.6 96.1L586.0 94.0L586.2 93.4L586.8 93.6L587.0 92.0L587.1 89.0L587.4 88.8L588.0 88.8L588.1 89.0L588.4 92.0L588.6 93.4L589.2 94.0L589.2 94.3L589.8 94.6L590.0 95.0L590.4 92.7L591.0 96.0L591.0 96.2L591.6 95.8L592.0 96.0L592.2 95.9L592.8 95.3L593.0 95.0L593.4 95.1L594.0 96.0L594.0 96.3L594.6 96.3L595.0 96.4L595.2 96.6L595.8 97.3L596.0 97.0L596.4 96.3L596.8 98.4L596.8 98.5 Z" fill="#86180f"/>
<rect x="357.9" y="38.0" width="1.4" height="61.5" fill="#1a1a1a"/>
<rect x="357.9" y="97.9" width="238.1" height="1.4" fill="#1a1010"/>
<rect x="356.6" y="38.0" width="1.5" height="0.9" fill="#333"/>
<text x="355" y="41.5" text-anchor="end" style="font-family:'Liberation Sans',Arial,Helvetica,sans-serif;font-size:10.5px;font-weight:bold;stroke-width:0.1px" fill="#111" stroke="#111">100</text>
<text x="550.7" y="50.3" style="font-family:'Liberation Sans',Arial,Helvetica,sans-serif;font-size:10.5px;font-weight:bold;stroke-width:0.1px" fill="#951c1c" stroke="#951c1c">2.05E10</text>
<text x="550.7" y="60.8" style="font-family:'Liberation Sans',Arial,Helvetica,sans-serif;font-size:10.5px;font-weight:bold;stroke-width:0.1px" fill="#951c1c" stroke="#951c1c">F 1</text>
<path d="M374.0 164.5L374.0 164.1L374.0 164.0L374.6 163.6L375.0 163.0L375.2 158.5L375.5 140.0L375.6 161.0L375.8 140.1L376.4 139.6L376.5 140.0L376.6 157.0L377.0 158.2L377.4 159.0L377.6 160.6L378.0 157.0L378.2 156.9L378.8 158.7L379.0 158.0L379.4 157.1L380.0 156.0L380.0 155.7L380.6 155.8L381.0 155.0L381.2 155.2L381.8 156.8L382.0 156.0L382.4 155.6L383.0 154.0L383.0 151.8L383.6 148.1L384.0 151.0L384.2 151.2L384.5 148.0L384.8 147.6L385.4 147.7L385.5 148.0L386.0 150.0L386.0 153.2L386.6 148.8L387.0 141.0L387.1 118.0L387.2 118.1L387.8 117.8L388.1 118.0L388.2 131.0L388.4 133.2L389.0 141.0L389.0 146.2L389.6 145.9L390.0 143.0L390.2 139.9L390.5 135.0L390.8 134.7L391.4 134.8L391.5 135.0L392.0 145.0L392.0 145.8L392.6 140.8L393.0 151.0L393.2 150.1L393.8 149.0L394.0 147.0L394.4 142.3L394.5 139.0L395.0 139.1L395.5 139.0L395.6 136.5L396.0 144.0L396.2 145.5L396.8 133.5L397.0 138.0L397.4 133.9L398.0 139.0L398.0 140.0L398.5 120.0L398.6 119.9L399.2 119.9L399.5 120.0L399.8 127.0L399.8 128.3L399.9 112.0L400.4 111.9L400.9 112.0L401.0 119.6L401.2 125.0L401.6 127.9L402.0 131.0L402.2 123.1L402.8 139.0L402.8 134.1L403.4 142.2L403.6 143.0L404.0 140.8L404.4 139.0L404.5 133.0L404.6 133.0L405.2 132.9L405.5 133.0L405.6 136.0L405.8 136.8L406.4 139.0L406.4 134.0L407.0 128.7L407.2 123.0L407.5 105.0L407.6 105.3L408.2 105.0L408.5 105.0L408.8 121.0L408.8 132.0L409.4 131.8L409.6 135.0L410.0 134.3L410.4 133.0L410.6 133.5L411.2 132.0L411.6 129.0L411.8 129.5L412.4 125.0L412.4 131.4L413.0 122.7L413.2 119.0L413.5 111.0L413.6 111.0L414.2 111.0L414.5 111.0L414.8 116.5L415.0 117.0L415.4 117.3L415.5 104.0L416.0 103.7L416.5 104.0L416.6 106.8L417.0 115.0L417.2 119.1L417.8 124.7L418.0 125.0L418.4 122.2L419.0 137.0L419.0 120.2L419.6 141.4L420.0 144.0L420.2 141.6L420.8 139.9L421.0 133.0L421.4 127.1L421.5 121.0L422.0 121.0L422.5 121.0L422.6 126.3L423.0 131.0L423.2 134.8L423.8 140.0L424.0 139.0L424.4 135.8L425.0 131.0L425.0 134.7L425.6 121.0L425.6 126.6L425.9 106.0L426.2 106.2L426.8 106.1L426.9 106.0L427.4 113.0L427.4 127.7L428.0 118.5L428.4 118.0L428.6 123.9L429.2 125.0L429.2 126.3L429.8 126.3L430.0 127.0L430.4 131.6L431.0 131.0L431.0 131.6L431.6 134.1L432.0 137.0L432.2 143.5L432.8 142.9L433.0 135.0L433.4 132.3L433.5 132.0L434.0 132.3L434.5 132.0L434.6 133.8L435.0 141.0L435.2 143.0L435.8 149.4L436.0 151.0L436.4 145.4L437.0 137.0L437.0 145.1L437.5 112.0L437.6 121.0L437.6 111.9L438.2 111.7L438.5 112.0L438.6 125.0L438.8 138.9L439.4 135.0L439.4 141.5L440.0 137.0L440.0 138.4L440.6 139.2L441.0 139.0L441.2 127.0L441.8 142.0L442.0 141.0L442.4 143.0L443.0 145.0L443.0 145.2L443.6 140.5L444.0 137.0L444.2 136.6L444.8 132.5L444.9 130.0L445.4 129.9L445.9 130.0L446.0 132.8L446.4 141.0L446.6 138.9L447.2 145.0L447.2 142.7L447.8 140.5L448.0 147.0L448.4 146.0L449.0 141.0L449.0 141.8L449.5 138.0L449.6 137.9L450.2 137.6L450.5 138.0L450.8 143.9L451.0 146.0L451.4 147.7L452.0 150.0L452.0 150.2L452.6 148.6L453.0 147.0L453.2 146.6L453.8 146.7L454.0 143.0L454.4 144.5L455.0 139.0L455.0 139.2L455.5 135.0L455.6 135.0L456.2 134.6L456.5 135.0L456.8 138.7L457.0 140.0L457.4 143.3L458.0 145.0L458.0 145.2L458.6 143.9L459.0 143.0L459.2 142.7L459.8 146.1L460.0 139.0L460.4 136.2L460.5 135.0L461.0 134.7L461.5 135.0L461.6 144.8L462.0 143.0L462.2 146.7L462.8 149.2L463.0 148.0L463.4 149.0L464.0 151.0L464.0 151.2L464.6 150.2L465.0 149.0L465.2 150.6L465.8 142.6L466.0 141.0L466.4 137.0L466.9 129.0L467.0 128.9L467.6 129.1L467.9 129.0L468.2 141.0L468.2 145.6L468.8 154.5L469.0 157.0L469.4 156.3L470.0 155.0L470.0 155.0L470.6 150.4L471.0 152.0L471.2 151.5L471.5 150.0L471.8 150.0L472.4 149.7L472.5 150.0L473.0 155.0L473.0 158.2L473.6 158.9L474.0 161.0L474.2 160.9L474.8 159.4L475.0 159.0L475.4 156.8L476.0 153.0L476.0 154.8L476.5 147.0L476.6 147.3L477.2 146.9L477.5 147.0L477.8 153.5L478.0 151.0L478.0 154.0L478.4 156.0L479.0 157.0L479.0 156.8L479.6 151.2L480.0 159.0L480.2 152.7L480.8 157.2L481.0 157.0L481.4 157.4L482.0 158.0L482.0 157.9L482.6 159.0L483.0 159.0L483.2 158.8L483.8 159.3L484.0 159.4L484.4 159.4L485.0 159.0L485.0 159.0L485.6 158.0L486.0 160.0L486.2 159.3L486.8 159.0L487.0 158.6L487.4 157.7L488.0 157.0L488.0 157.1L488.6 158.0L489.0 158.0L489.2 157.9L489.5 156.0L489.8 156.3L490.4 155.8L490.5 156.0L491.0 158.0L491.0 158.8L491.6 157.0L491.6 158.1L491.9 140.6L492.2 140.7L492.8 140.8L492.9 140.6L493.0 153.0L493.4 156.4L494.0 160.0L494.0 159.9L494.6 159.4L495.0 159.4L495.2 159.5L495.8 160.4L496.0 160.6L496.4 160.3L497.0 160.8L497.6 161.2L498.0 161.0L498.2 160.6L498.8 161.0L499.4 160.7L500.0 160.2L500.0 160.1L500.6 160.4L501.2 160.3L501.8 160.4L502.0 160.0L502.4 160.4L503.0 160.3L503.6 160.1L504.0 160.6L504.2 160.4L504.8 160.4L505.4 160.1L506.0 159.4L506.0 159.5L506.6 159.5L507.0 159.0L507.2 159.2L507.8 158.4L508.0 158.6L508.4 158.9L509.0 159.4L509.0 159.2L509.6 159.4L510.0 160.0L510.2 159.8L510.8 160.2L511.4 160.4L512.0 161.0L512.0 161.0L512.6 160.6L513.2 160.7L513.8 160.6L514.0 160.6L514.4 160.6L515.0 161.3L515.6 161.5L516.0 161.4L516.2 161.3L516.8 161.2L517.4 161.4L518.0 162.0L518.0 161.8L518.6 161.5L519.2 161.9L519.8 161.4L520.0 161.6L520.4 161.2L521.0 161.6L521.6 161.5L522.0 161.4L522.2 161.4L522.8 161.8L523.4 161.5L524.0 161.8L524.0 161.5L524.6 161.4L525.2 161.2L525.8 161.2L526.0 161.0L526.4 161.3L527.0 161.7L527.6 161.7L528.0 162.0L528.2 162.1L528.8 161.9L529.4 162.3L530.0 162.6L530.0 162.2L530.6 162.1L531.2 162.0L531.8 162.2L532.0 162.0L532.4 161.6L533.0 161.4L533.6 161.7L534.0 161.4L534.2 161.3L534.8 161.2L535.4 160.6L536.0 160.6L536.0 160.8L536.6 160.4L537.2 160.2L537.8 159.5L538.0 159.4L538.4 159.5L539.0 159.8L539.0 159.6L539.6 159.2L540.0 159.4L540.2 159.5L540.8 160.2L541.0 160.2L541.4 160.2L542.0 159.4L542.0 159.7L542.6 160.7L543.0 161.0L543.2 161.4L543.8 160.6L544.0 161.4L544.4 161.3L545.0 161.9L545.6 161.7L546.0 162.0L546.2 161.6L546.8 162.3L547.4 161.9L548.0 162.2L548.0 162.5L548.6 162.1L549.2 162.7L549.8 162.2L550.0 162.4L550.4 162.2L551.0 162.2L551.6 162.5L552.0 162.6L552.2 162.4L552.8 162.7L553.4 162.9L554.0 162.6L554.0 163.0L554.6 163.0L555.2 162.6L555.8 162.4L556.0 162.8L556.4 162.5L557.0 163.1L557.6 162.7L558.0 163.0L558.2 163.3L558.8 163.2L559.4 162.6L560.0 162.6L560.0 162.3L560.6 162.8L561.2 162.3L561.8 161.8L562.0 162.0L562.4 162.4L563.0 162.6L563.0 162.6L563.6 162.6L564.0 162.8L564.2 162.5L564.8 163.1L565.4 162.7L566.0 163.0L566.0 163.2L566.6 162.9L567.2 163.1L567.8 163.0L568.0 163.0L568.4 162.9L569.0 163.2L569.6 162.8L570.0 163.0L570.2 162.6L570.8 162.9L571.4 162.7L572.0 163.0L572.0 162.2L572.6 162.6L573.2 162.1L573.8 160.0L574.0 162.6L574.4 161.2L575.0 162.8L575.6 161.0L575.6 162.1L575.9 158.6L576.2 158.5L576.8 158.2L576.9 158.6L577.0 161.0L577.4 162.5L578.0 162.8L578.0 163.0L578.6 162.6L579.2 160.6L579.8 160.5L580.0 163.0L580.4 162.5L581.0 162.6L581.6 163.3L582.0 163.0L582.2 163.1L582.8 162.5L583.4 162.4L584.0 162.6L584.0 162.8L584.6 161.8L585.2 161.5L585.8 161.5L586.0 161.0L586.4 161.1L587.0 161.4L587.0 161.8L587.6 160.9L588.0 160.0L588.2 160.4L588.8 158.6L589.0 158.0L589.1 154.6L589.4 155.0L590.0 154.7L590.1 154.6L590.4 158.0L590.6 159.8L591.2 162.0L591.2 161.8L591.8 158.6L592.0 162.2L592.4 161.9L593.0 162.0L593.0 162.3L593.6 161.7L594.0 162.6L594.2 162.5L594.8 162.9L595.4 162.9L596.0 163.0L596.0 163.0L596.6 163.3L597.0 164.0L597.0 164.5 Z" fill="#86180f"/>
<rect x="357.9" y="104.0" width="1.4" height="61.5" fill="#1a1a1a"/>
<rect x="357.9" y="163.9" width="238.1" height="1.4" fill="#1a1010"/>
<rect x="356.6" y="104.0" width="1.5" height="0.9" fill="#333"/>
<text x="355" y="107.9" text-anchor="end" style="font-family:'Liberation Sans',Arial,Helvetica,sans-serif;font-size:10.5px;font-weight:bold;stroke-width:0.1px" fill="#111" stroke="#111">100</text>
<text x="550.7" y="114.0" style="font-family:'Liberation Sans',Arial,Helvetica,sans-serif;font-size:10.5px;font-weight:bold;stroke-width:0.1px" fill="#951c1c" stroke="#951c1c">1.54E10</text>
<text x="550.7" y="124.8" style="font-family:'Liberation Sans',Arial,Helvetica,sans-serif;font-size:10.5px;font-weight:bold;stroke-width:0.1px" fill="#951c1c" stroke="#951c1c">F 2</text>
<path d="M374.0 230.4L374.0 215.5L374.0 230.0L374.6 229.3L375.0 229.0L375.1 207.0L375.2 217.0L375.2 207.3L375.8 207.1L376.1 207.0L376.2 219.0L376.4 225.4L377.0 227.0L377.0 227.0L377.6 216.3L378.0 228.0L378.2 227.5L378.8 218.8L379.4 227.2L380.0 227.0L380.0 227.7L380.6 221.2L381.0 226.0L381.2 226.3L381.8 225.9L382.0 225.0L382.4 213.2L383.0 223.0L383.0 224.2L383.6 217.0L383.6 218.2L384.1 206.0L384.2 205.6L384.8 206.0L385.1 206.0L385.4 215.0L385.4 215.7L386.0 219.0L386.0 220.0L386.6 219.7L386.8 213.0L387.1 205.0L387.2 204.6L387.8 204.7L388.1 205.0L388.4 213.0L388.4 214.5L389.0 217.0L389.0 217.4L389.6 218.8L390.0 218.0L390.2 218.3L390.8 219.5L391.0 219.0L391.4 217.2L391.6 216.0L391.9 212.0L392.0 212.2L392.6 211.7L392.9 212.0L393.0 219.0L393.2 220.3L393.6 224.0L393.8 220.3L394.4 207.0L394.4 216.7L394.5 184.0L395.0 183.8L395.5 184.0L395.6 191.0L395.6 192.4L396.2 206.3L396.4 207.0L396.8 214.0L397.2 203.0L397.4 207.3L398.0 197.0L398.0 192.0L398.5 185.0L398.6 185.3L399.2 185.3L399.5 185.0L399.8 195.0L399.8 197.9L400.4 205.0L400.4 205.5L401.0 204.1L401.2 201.0L401.6 202.2L401.9 192.0L402.2 192.4L402.8 192.3L402.9 192.0L403.2 199.0L403.4 201.0L404.0 207.0L404.0 203.6L404.6 200.8L405.0 197.0L405.2 201.0L405.5 190.6L405.8 190.3L406.4 190.6L406.5 190.6L406.8 197.0L407.0 193.5L407.1 191.0L407.6 190.8L408.1 191.0L408.2 200.2L408.4 201.0L408.8 204.8L409.0 207.0L409.4 205.1L409.6 203.0L409.9 195.0L410.0 195.0L410.6 195.2L410.9 195.0L411.2 197.0L411.2 201.3L411.8 203.3L412.0 201.0L412.4 199.6L412.5 199.0L413.0 199.1L413.5 199.0L413.6 200.9L414.0 202.0L414.2 204.1L414.8 197.0L414.8 199.7L415.1 190.0L415.4 190.0L416.0 190.3L416.1 190.0L416.2 199.0L416.6 204.1L417.0 210.0L417.2 209.4L417.8 208.6L418.0 208.0L418.4 207.5L419.0 205.0L419.0 207.9L419.6 203.7L420.0 203.0L420.2 205.6L420.8 201.5L421.0 201.0L421.4 202.8L422.0 197.0L422.0 194.0L422.6 201.3L423.0 191.0L423.2 194.5L423.6 179.0L423.8 179.1L423.9 170.0L424.4 169.7L424.9 170.0L425.0 187.4L425.2 179.0L425.6 187.6L426.0 187.0L426.2 190.6L426.8 190.1L427.0 185.0L427.4 174.5L427.5 171.4L428.0 171.4L428.5 171.4L428.6 181.3L428.8 181.0L429.2 191.8L429.6 187.0L429.8 190.9L430.4 193.0L430.4 189.2L431.0 198.3L431.2 199.0L431.6 197.8L432.0 203.0L432.2 205.8L432.8 201.8L433.0 201.0L433.4 199.5L433.5 197.0L434.0 196.8L434.5 197.0L434.6 199.4L435.0 203.0L435.2 204.4L435.8 207.8L436.0 209.0L436.4 206.2L437.0 199.0L437.0 201.5L437.5 184.6L437.6 184.5L438.2 184.9L438.5 184.6L438.8 189.0L438.8 198.8L439.4 192.3L439.5 191.0L439.6 193.0L440.0 190.8L440.5 191.0L440.6 202.2L441.0 201.0L441.2 205.6L441.8 201.5L442.0 209.0L442.4 207.1L443.0 203.0L443.0 205.3L443.6 200.6L443.9 193.0L444.0 195.0L444.2 193.1L444.8 193.1L444.9 193.0L445.2 199.0L445.4 199.2L446.0 197.0L446.0 196.7L446.6 197.3L447.0 197.0L447.2 205.5L447.8 207.0L448.0 205.0L448.4 210.9L449.0 213.0L449.0 212.7L449.6 208.6L450.0 203.0L450.2 202.5L450.5 189.0L450.8 189.1L451.4 189.1L451.5 189.0L452.0 199.0L452.0 206.9L452.6 210.9L453.0 211.0L453.2 209.1L453.8 204.8L454.0 203.0L454.4 202.1L455.0 191.0L455.0 193.3L455.1 183.0L455.6 183.3L456.1 183.0L456.2 199.6L456.4 193.0L456.8 195.5L457.4 204.4L457.6 203.0L458.0 207.0L458.6 207.0L458.6 208.2L459.2 211.1L459.6 213.0L459.8 211.4L460.4 207.0L460.6 205.0L461.0 203.7L461.1 194.0L461.6 194.3L462.1 194.0L462.2 206.7L462.6 203.0L462.8 205.5L463.4 208.8L464.0 212.0L464.0 211.6L464.6 211.3L465.0 211.0L465.2 210.7L465.8 207.9L466.0 207.0L466.4 206.8L466.5 200.0L467.0 199.6L467.5 200.0L467.6 211.5L468.0 205.0L468.2 210.0L468.8 211.5L469.0 211.0L469.4 213.4L470.0 215.0L470.0 217.5L470.6 216.7L471.0 218.0L471.2 219.0L471.8 215.2L472.0 220.0L472.4 219.0L473.0 213.0L473.0 215.2L473.5 204.0L473.6 204.3L474.2 204.1L474.5 204.0L474.8 211.0L474.8 212.3L475.4 215.8L476.0 220.0L476.0 220.0L476.6 217.8L477.0 217.0L477.2 216.3L477.5 215.0L477.8 215.0L478.0 218.0L478.4 214.7L478.5 215.0L479.0 219.4L479.0 220.7L479.6 219.9L480.0 220.0L480.2 219.7L480.8 220.5L481.0 221.0L481.4 220.6L482.0 221.0L482.0 220.6L482.6 221.2L483.0 220.6L483.2 219.9L483.5 219.0L483.8 218.8L484.4 219.2L484.5 219.0L485.0 221.0L485.0 221.2L485.6 220.8L486.0 220.0L486.2 220.0L486.5 218.6L486.8 218.5L487.4 218.6L487.5 218.6L488.0 220.6L488.0 220.8L488.6 221.2L489.0 221.0L489.2 220.7L489.6 219.0L489.8 216.3L489.9 215.0L490.4 215.1L490.9 215.0L491.0 218.3L491.2 221.0L491.6 222.1L492.0 223.0L492.2 222.8L492.8 221.8L493.0 221.0L493.4 221.3L494.0 219.0L494.0 220.6L494.5 215.0L494.6 215.0L495.2 214.8L495.5 215.0L495.8 219.7L496.0 218.0L496.4 216.8L496.9 214.0L497.0 214.1L497.6 213.7L497.9 214.0L498.2 218.0L498.2 218.1L498.8 220.8L499.0 221.0L499.4 217.6L500.0 222.0L500.0 222.4L500.6 221.9L501.0 221.0L501.2 222.8L501.8 220.7L502.0 220.0L502.4 219.5L503.0 219.0L503.0 219.0L503.6 221.3L504.0 222.0L504.2 222.5L504.8 223.8L505.0 224.0L505.4 224.6L506.0 224.6L506.0 221.4L506.6 222.7L507.0 224.6L507.2 224.8L507.8 224.7L508.0 225.0L508.4 224.8L509.0 225.3L509.6 225.0L510.0 225.4L510.2 225.2L510.8 225.6L511.4 225.8L512.0 226.0L512.0 225.8L512.6 225.9L513.2 226.0L513.8 225.7L514.0 225.8L514.4 225.9L515.0 226.3L515.6 225.7L516.0 226.0L516.2 221.8L516.8 225.1L517.0 222.0L517.1 217.0L517.4 216.6L518.0 217.3L518.1 217.0L518.2 223.0L518.6 224.9L519.0 226.0L519.2 225.9L519.8 225.0L520.0 226.6L520.4 226.4L521.0 226.9L521.6 227.1L522.0 227.0L522.2 227.0L522.8 227.0L523.4 226.8L524.0 227.0L524.0 227.2L524.6 226.9L525.2 227.1L525.8 227.3L526.0 227.0L526.4 227.2L527.0 227.0L527.6 227.3L528.0 227.4L528.2 227.5L528.8 227.7L529.4 227.7L530.0 228.0L530.0 228.0L530.6 227.6L531.2 228.2L531.8 228.0L532.0 227.8L532.4 227.8L533.0 228.1L533.6 228.0L534.0 228.2L534.2 228.4L534.8 228.0L535.4 228.3L536.0 228.0L536.0 228.1L536.6 228.4L537.2 228.0L537.8 228.2L538.0 228.2L538.4 228.3L539.0 228.7L539.6 228.8L540.0 228.6L540.2 228.5L540.8 228.9L541.4 228.2L542.0 228.6L542.0 228.4L542.6 228.9L543.2 228.9L543.8 229.0L544.0 229.0L544.4 228.7L545.0 228.8L545.6 229.2L546.0 229.0L546.2 228.6L546.8 229.2L547.4 229.0L548.0 229.3L548.6 229.0L549.2 228.9L549.8 228.7L550.0 229.0L550.4 228.7L551.0 229.1L551.6 229.2L552.2 229.2L552.8 228.7L553.4 228.8L554.0 229.0L554.0 229.3L554.6 228.7L555.2 228.9L555.8 229.0L556.4 229.0L557.0 229.1L557.6 229.5L558.0 229.2L558.2 229.2L558.8 229.5L559.4 228.9L560.0 229.2L560.6 229.0L561.2 229.3L561.8 228.8L562.0 229.0L562.4 228.7L563.0 229.4L563.6 229.4L564.2 228.7L564.8 229.5L565.4 229.4L566.0 229.2L566.0 229.3L566.6 229.1L567.2 229.3L567.8 229.1L568.4 229.2L569.0 229.1L569.6 228.7L570.0 229.0L570.2 228.9L570.8 229.0L571.4 228.8L572.0 228.8L572.6 228.9L573.2 229.0L573.8 228.9L574.0 228.6L574.4 228.6L575.0 228.1L575.4 228.0L575.5 226.6L575.6 227.0L576.2 226.2L576.5 226.6L576.6 228.0L576.8 228.4L577.4 228.7L578.0 229.0L578.0 228.7L578.6 228.8L579.2 227.8L579.8 228.8L580.0 229.2L580.4 229.6L581.0 229.0L581.6 229.4L582.0 229.0L582.2 229.2L582.8 227.1L583.4 228.2L584.0 228.0L584.0 226.8L584.6 228.1L585.0 227.0L585.2 226.1L585.5 224.0L585.8 224.2L586.4 224.0L586.5 224.0L587.0 226.0L587.0 225.8L587.6 226.9L588.0 227.0L588.2 227.3L588.8 228.6L589.0 228.0L589.4 227.9L590.0 228.6L590.0 228.9L590.6 227.6L591.2 228.1L591.8 229.0L592.0 229.0L592.4 229.0L593.0 229.4L593.6 229.1L594.0 229.2L594.2 229.3L594.8 229.0L595.4 229.4L596.0 229.4L596.0 229.1L596.6 229.8L597.0 230.0L597.0 230.4 Z" fill="#86180f"/>
<rect x="357.9" y="170.0" width="1.4" height="61.4" fill="#1a1a1a"/>
<rect x="357.9" y="229.8" width="238.1" height="1.4" fill="#1a1010"/>
<rect x="356.6" y="170.0" width="1.5" height="0.9" fill="#333"/>
<text x="355" y="173.7" text-anchor="end" style="font-family:'Liberation Sans',Arial,Helvetica,sans-serif;font-size:10.5px;font-weight:bold;stroke-width:0.1px" fill="#111" stroke="#111">100</text>
<text x="550.7" y="179.8" style="font-family:'Liberation Sans',Arial,Helvetica,sans-serif;font-size:10.5px;font-weight:bold;stroke-width:0.1px" fill="#951c1c" stroke="#951c1c">1.94E10</text>
<text x="550.7" y="191.2" style="font-family:'Liberation Sans',Arial,Helvetica,sans-serif;font-size:10.5px;font-weight:bold;stroke-width:0.1px" fill="#951c1c" stroke="#951c1c">F 3</text>
<path d="M373.0 296.2L373.0 296.2L373.0 296.0L373.1 287.4L373.4 291.0L373.6 287.6L374.0 293.0L374.1 287.4L374.2 290.0L374.8 292.7L375.0 294.0L375.4 294.4L376.0 293.9L376.6 294.4L377.0 294.2L377.2 294.0L377.8 293.9L378.4 294.1L379.0 294.0L379.0 293.7L379.6 294.3L380.2 294.3L380.8 294.3L381.0 294.0L381.4 289.6L382.0 291.0L382.0 291.6L382.1 277.0L382.6 276.7L383.1 277.0L383.2 291.0L383.2 292.7L383.8 292.0L384.0 294.0L384.4 293.4L385.0 293.4L385.0 293.3L385.6 293.1L386.0 292.6L386.2 292.8L386.8 292.4L387.0 292.0L387.4 291.3L388.0 291.0L388.0 290.8L388.6 290.2L389.0 290.0L389.2 290.3L389.8 290.1L390.0 289.6L390.4 289.0L391.0 289.0L391.0 288.6L391.6 288.5L392.0 288.0L392.2 287.9L392.8 283.3L393.0 287.0L393.4 288.1L394.0 289.6L394.0 280.9L394.6 284.6L394.6 286.0L394.9 275.6L395.2 275.6L395.8 275.5L395.9 275.6L396.2 284.6L396.4 287.8L397.0 288.6L397.0 286.8L397.6 287.6L398.0 286.6L398.2 286.4L398.8 284.2L399.0 283.6L399.4 284.2L400.0 284.6L400.0 286.3L400.6 286.4L401.0 280.6L401.2 278.9L401.8 280.0L401.9 272.2L402.4 271.9L402.9 272.2L403.0 273.7L403.2 274.6L403.6 279.5L404.0 276.6L404.2 276.7L404.8 274.9L405.0 274.6L405.4 277.2L406.0 268.6L406.0 271.1L406.5 256.6L406.6 256.6L407.2 256.3L407.5 256.6L407.8 270.6L407.8 272.8L408.4 279.6L408.4 279.6L409.0 273.2L409.4 274.6L409.6 275.1L409.9 268.2L410.2 268.3L410.8 268.0L410.9 268.2L411.2 274.6L411.4 272.9L412.0 279.6L412.0 279.2L412.6 278.2L413.0 276.6L413.2 277.5L413.5 274.6L413.8 274.7L414.4 275.0L414.5 274.6L415.0 276.6L415.0 278.3L415.6 278.5L415.9 272.2L416.2 272.2L416.8 272.4L416.9 272.2L417.2 276.6L417.4 279.9L418.0 282.6L418.0 282.5L418.6 278.9L419.0 276.6L419.2 276.4L419.8 267.2L420.0 263.0L420.4 260.9L420.5 242.0L420.6 251.0L421.0 241.8L421.5 242.0L421.6 253.0L421.6 263.9L422.2 267.6L422.4 272.6L422.8 275.2L423.2 276.6L423.4 266.4L424.0 281.6L424.0 281.9L424.6 273.3L425.0 263.0L425.2 265.5L425.5 248.0L425.8 248.0L426.4 247.7L426.5 248.0L426.8 253.0L427.0 254.3L427.6 252.0L427.6 252.4L428.2 262.0L428.4 263.0L428.8 269.0L429.4 277.0L429.6 279.6L430.0 281.2L430.6 280.6L430.8 280.6L431.2 280.1L431.8 282.8L432.0 283.6L432.4 281.2L433.0 274.6L433.0 279.3L433.6 268.4L433.9 257.4L434.2 257.3L434.8 257.4L434.9 257.4L435.2 270.6L435.4 277.4L436.0 277.6L436.0 278.5L436.6 275.0L437.0 272.6L437.2 272.7L437.5 268.6L437.8 268.8L438.4 268.5L438.5 268.6L439.0 272.6L439.0 275.8L439.6 266.2L440.0 257.0L440.1 250.0L440.2 249.7L440.8 250.3L441.1 250.0L441.2 259.0L441.4 267.6L442.0 276.6L442.0 276.6L442.6 267.7L443.2 272.6L443.2 278.2L443.8 273.3L443.9 263.0L444.4 263.3L444.9 263.0L445.0 270.9L445.2 276.6L445.6 281.1L446.0 284.6L446.2 283.7L446.8 280.2L447.2 276.6L447.4 280.0L448.0 277.8L448.4 270.6L448.6 268.6L449.2 257.0L449.2 253.4L449.8 250.0L450.0 243.0L450.1 236.6L450.4 236.8L451.0 236.7L451.1 236.6L451.4 243.0L451.6 246.6L452.0 247.0L452.2 249.7L452.8 257.0L452.8 257.3L453.4 269.0L453.6 272.6L454.0 265.6L454.4 257.0L454.5 248.6L454.6 249.0L455.2 248.4L455.5 248.6L455.8 257.0L455.8 258.7L455.9 249.0L456.4 248.9L456.9 249.0L457.0 265.4L457.2 263.0L457.6 265.4L458.0 276.6L458.2 272.1L458.8 259.0L458.8 260.1L459.1 246.0L459.4 246.0L460.0 246.4L460.1 246.0L460.4 253.0L460.6 264.6L461.0 259.0L461.2 270.1L461.8 260.3L462.0 268.6L462.4 271.2L463.0 272.6L463.0 276.3L463.6 275.5L464.0 274.6L464.2 278.1L464.8 277.0L465.0 276.6L465.4 278.6L466.0 280.6L466.0 282.5L466.6 286.9L467.0 284.6L467.2 287.4L467.8 288.6L468.0 287.6L468.4 290.1L469.0 290.6L469.0 290.5L469.6 288.3L470.0 286.6L470.2 286.2L470.8 285.0L471.0 279.0L471.4 280.2L471.5 275.0L472.0 275.3L472.5 275.0L472.6 277.4L473.0 278.0L473.2 285.5L473.8 280.2L474.0 281.0L474.4 277.8L475.0 276.0L475.0 277.0L475.5 271.0L475.6 270.9L476.2 271.3L476.5 271.0L476.8 276.2L477.0 277.0L477.4 276.6L478.0 273.0L478.0 273.0L478.0 273.2L478.6 280.6L479.0 276.0L479.2 279.8L479.5 274.0L479.8 274.0L480.4 274.1L480.5 274.0L481.0 279.0L481.0 281.6L481.6 282.6L482.0 284.0L482.2 285.2L482.8 285.9L483.0 286.0L483.4 286.2L484.0 287.0L484.0 287.3L484.6 283.0L484.8 281.0L485.1 274.0L485.2 274.3L485.8 274.2L486.1 274.0L486.4 280.9L486.6 277.0L487.0 278.4L487.6 278.0L487.6 282.8L488.2 282.0L488.4 282.0L488.8 284.9L489.0 285.0L489.4 286.4L490.0 286.0L490.0 279.5L490.6 286.3L491.0 287.0L491.2 286.3L491.8 279.0L491.8 283.2L491.9 274.0L492.4 274.0L492.9 274.0L493.0 278.6L493.2 276.0L493.6 279.2L494.0 275.0L494.2 280.3L494.8 276.6L495.0 273.0L495.4 271.0L495.5 269.0L496.0 269.3L496.5 269.0L496.6 273.4L496.8 275.0L497.2 280.1L497.6 280.0L497.8 281.7L498.4 285.0L498.4 285.7L499.0 288.0L499.0 287.6L499.6 287.5L500.0 287.0L500.2 286.6L500.8 287.0L500.8 287.1L501.4 286.3L501.6 286.0L502.0 286.8L502.4 287.4L502.6 288.4L503.2 288.0L503.2 287.9L503.8 288.3L504.0 288.0L504.4 288.7L505.0 289.0L505.0 288.8L505.6 289.5L506.0 290.0L506.2 290.0L506.8 290.7L507.0 290.6L507.4 290.6L508.0 291.0L508.0 291.0L508.6 290.6L509.2 290.8L509.8 290.9L510.0 291.0L510.4 291.3L511.0 291.2L511.6 291.3L512.0 291.4L512.2 291.5L512.8 291.6L513.4 291.4L514.0 291.0L514.0 291.4L514.6 290.9L515.2 290.8L515.8 290.4L516.0 290.6L516.4 290.4L517.0 290.0L517.0 289.9L517.6 289.3L518.0 289.0L518.2 289.7L518.8 291.5L519.0 291.4L519.4 292.3L520.0 293.0L520.0 292.1L520.6 293.3L521.2 292.8L521.8 293.3L522.0 293.0L522.4 292.7L523.0 293.1L523.6 293.2L524.0 293.0L524.2 293.3L524.8 293.1L525.4 293.3L526.0 293.0L526.0 292.6L526.6 293.0L527.2 293.6L527.8 293.8L528.0 294.0L528.4 294.2L529.0 294.2L529.6 293.9L530.0 295.0L530.2 294.7L530.8 294.3L531.4 294.4L532.0 294.2L532.0 294.1L532.6 293.7L533.2 294.1L533.8 294.3L534.0 294.0L534.4 294.1L535.0 293.2L535.6 293.5L536.0 293.0L536.2 293.7L536.5 291.4L536.8 291.3L537.4 291.6L537.5 291.4L538.0 294.0L538.0 294.1L538.6 294.4L539.2 294.6L539.8 294.2L540.0 294.6L540.4 294.3L541.0 294.7L541.6 294.9L542.0 294.6L542.2 294.8L542.8 294.6L543.4 294.4L544.0 294.8L544.6 295.0L545.2 294.7L545.8 294.9L546.0 294.8L546.4 294.8L547.0 295.0L547.6 294.7L548.2 294.8L548.8 294.4L549.4 294.5L550.0 294.8L550.0 294.6L550.6 294.9L551.2 294.6L551.8 294.4L552.4 294.6L553.0 294.8L553.6 294.9L554.0 294.6L554.2 294.7L554.8 294.8L555.4 294.4L556.0 294.3L556.6 294.8L557.2 294.7L557.8 295.0L558.0 294.6L558.4 294.6L559.0 294.8L559.6 294.9L560.2 294.6L560.8 295.2L561.4 294.6L562.0 295.0L562.0 295.0L562.6 295.4L563.2 294.6L563.8 294.7L564.4 294.9L565.0 295.0L565.6 294.9L566.0 295.0L566.2 294.7L566.8 295.0L567.4 294.7L568.0 294.9L568.6 295.0L569.2 294.8L569.8 295.0L570.0 295.0L570.4 294.7L571.0 294.6L571.6 294.6L572.2 295.1L572.8 294.8L573.4 294.5L574.0 294.8L574.0 295.2L574.6 294.5L575.2 293.9L575.4 293.0L575.5 291.4L575.8 291.2L576.4 291.0L576.5 291.4L576.6 294.0L577.0 293.3L577.6 293.9L578.0 295.0L578.2 294.6L578.8 295.2L579.4 295.3L580.0 294.6L580.6 294.7L581.2 294.9L581.8 294.9L582.0 295.0L582.4 294.7L583.0 294.7L583.6 294.6L584.2 294.3L584.8 293.7L585.0 294.0L585.4 293.6L586.0 292.6L586.0 293.2L586.5 291.0L586.6 290.9L587.2 291.0L587.5 291.0L587.8 292.0L588.0 293.0L588.4 292.3L589.0 294.6L589.0 294.7L589.6 292.5L590.0 295.0L590.2 295.2L590.8 295.3L591.4 295.3L592.0 295.3L592.6 294.8L593.2 295.4L593.8 295.1L594.0 295.2L594.4 295.2L595.0 295.5L595.6 295.2L596.2 295.5L596.8 296.1L597.0 296.0L597.0 296.2 Z" fill="#86180f"/>
<rect x="357.9" y="236.0" width="1.4" height="61.2" fill="#1a1a1a"/>
<rect x="357.9" y="295.6" width="238.1" height="1.4" fill="#1a1010"/>
<rect x="356.6" y="236.0" width="1.5" height="0.9" fill="#333"/>
<text x="355" y="240.4" text-anchor="end" style="font-family:'Liberation Sans',Arial,Helvetica,sans-serif;font-size:10.5px;font-weight:bold;stroke-width:0.1px" fill="#111" stroke="#111">100</text>
<text x="550.7" y="246.7" style="font-family:'Liberation Sans',Arial,Helvetica,sans-serif;font-size:10.5px;font-weight:bold;stroke-width:0.1px" fill="#951c1c" stroke="#951c1c">1.91E10</text>
<text x="550.7" y="257.2" style="font-family:'Liberation Sans',Arial,Helvetica,sans-serif;font-size:10.5px;font-weight:bold;stroke-width:0.1px" fill="#951c1c" stroke="#951c1c">F 4</text>
<path d="M373.5 362.0L373.5 359.0L373.6 359.1L373.6 361.6L374.2 359.1L374.5 359.0L374.8 359.7L375.0 360.4L375.4 360.0L376.0 360.2L376.6 359.9L377.0 360.0L377.2 359.6L377.8 359.6L378.4 360.4L379.0 360.0L379.0 360.2L379.6 360.2L380.2 360.2L380.8 359.6L381.0 359.8L381.4 358.9L382.0 359.0L382.0 359.3L382.6 358.7L383.0 358.0L383.2 358.1L383.8 359.9L384.0 359.6L384.4 359.1L385.0 359.2L385.6 358.8L386.0 359.0L386.2 359.2L386.8 358.3L387.0 358.0L387.4 357.3L388.0 357.0L388.0 357.1L388.6 355.3L389.0 356.0L389.2 356.0L389.8 356.3L390.0 358.0L390.4 357.4L391.0 355.0L391.0 355.1L391.5 349.0L391.6 349.2L392.2 348.7L392.5 349.0L392.6 354.0L392.8 353.5L393.0 356.0L393.4 356.3L394.0 354.0L394.0 355.3L394.5 344.4L394.6 344.1L395.2 344.1L395.5 344.4L395.8 352.0L395.8 352.1L396.4 354.6L397.0 356.0L397.0 356.2L397.6 355.7L398.0 354.0L398.2 348.5L398.5 331.6L398.8 331.4L399.4 331.9L399.5 331.6L399.8 342.0L400.0 345.3L400.4 344.0L400.6 349.4L401.1 341.0L401.2 340.6L401.8 340.6L402.1 341.0L402.4 346.0L402.4 339.5L403.0 354.0L403.0 354.0L403.6 351.0L404.0 348.0L404.2 344.4L404.8 330.2L404.9 327.6L405.4 327.8L405.9 327.6L406.0 336.5L406.2 344.0L406.6 349.4L407.0 352.0L407.2 349.6L407.8 344.2L407.9 325.6L408.0 340.0L408.4 325.5L408.9 325.6L409.0 327.7L409.2 332.0L409.6 339.1L410.0 346.0L410.2 346.7L410.8 350.3L411.0 350.0L411.4 350.8L412.0 352.0L412.0 352.2L412.6 350.2L413.0 346.0L413.2 346.1L413.5 332.0L413.8 331.8L414.4 332.0L414.5 332.0L415.0 346.0L415.0 346.3L415.6 348.9L416.0 351.0L416.2 349.4L416.8 345.9L417.0 344.0L417.1 339.0L417.4 339.0L418.0 338.3L418.1 339.0L418.4 342.0L418.6 344.8L419.0 347.0L419.2 345.9L419.8 341.1L420.0 340.0L420.4 337.9L420.5 327.0L421.0 327.1L421.5 327.0L421.6 333.5L421.8 332.0L422.2 338.9L422.4 342.0L422.8 343.9L423.2 340.0L423.4 338.4L424.0 318.0L424.0 323.3L424.5 302.4L424.6 302.6L425.2 302.3L425.5 302.4L425.8 308.0L425.8 308.9L426.4 310.0L426.4 325.1L427.0 319.4L427.2 322.0L427.6 327.3L428.0 332.0L428.2 333.4L428.8 339.0L429.0 338.0L429.4 342.3L430.0 344.0L430.0 343.6L430.6 340.4L431.0 336.0L431.2 333.4L431.6 328.0L431.8 335.6L431.9 325.0L432.4 325.4L432.9 325.0L433.0 330.6L433.2 330.0L433.6 331.1L434.0 331.0L434.2 333.4L434.6 320.0L434.7 311.6L434.8 311.6L435.4 311.2L435.7 311.6L436.0 324.0L436.0 329.7L436.6 333.1L437.0 338.0L437.2 334.6L437.8 326.4L438.0 322.0L438.4 332.8L438.5 303.0L439.0 302.8L439.5 303.0L439.6 317.6L439.8 318.0L440.2 332.4L440.4 330.0L440.8 334.6L441.2 338.0L441.4 343.6L442.0 346.0L442.0 344.6L442.6 340.6L442.8 338.0L443.1 332.0L443.2 332.1L443.8 323.7L444.1 332.0L444.4 338.0L444.4 341.2L445.0 334.3L445.2 330.0L445.6 330.9L446.0 314.0L446.1 302.4L446.2 302.2L446.8 302.8L447.1 302.4L447.4 314.0L447.4 317.2L448.0 323.2L448.4 323.0L448.6 324.7L449.2 328.0L449.2 328.9L449.8 331.8L450.0 334.0L450.4 326.7L450.8 318.0L451.0 315.8L451.1 307.6L451.6 307.3L452.1 307.6L452.2 317.7L452.4 310.0L452.8 315.5L453.4 325.8L453.6 314.0L454.0 315.3L454.4 316.0L454.6 318.1L455.0 318.0L455.2 333.6L455.6 328.0L455.8 332.9L456.4 337.0L456.4 337.4L457.0 335.5L457.4 340.0L457.6 340.5L458.2 342.8L458.8 337.4L459.0 344.0L459.4 342.7L460.0 340.0L460.0 344.6L460.6 335.6L460.8 332.0L461.1 320.0L461.2 320.0L461.8 319.8L462.1 320.0L462.4 334.0L462.4 344.4L463.0 346.3L463.4 351.0L463.6 350.3L464.2 348.0L464.2 348.1L464.8 348.4L465.0 344.0L465.4 344.5L466.0 338.0L466.0 342.2L466.5 332.4L466.6 332.7L467.2 332.6L467.5 332.4L467.8 337.7L468.0 338.0L468.4 342.6L469.0 344.0L469.0 343.8L469.6 340.0L470.0 342.0L470.2 336.7L470.8 341.3L471.0 341.0L471.4 340.5L472.0 338.0L472.0 341.4L472.5 334.0L472.6 333.9L473.2 334.2L473.5 334.0L473.8 338.7L474.0 338.0L474.4 339.8L475.0 348.0L475.0 347.7L475.6 334.0L475.6 328.6L475.9 315.0L476.2 315.1L476.8 315.1L476.9 315.0L477.2 322.0L477.4 333.2L478.0 328.0L478.0 331.0L478.0 340.0L478.6 334.0L478.8 335.0L479.2 329.0L479.6 338.0L479.8 343.9L480.4 337.8L480.6 334.0L481.0 331.2L481.1 331.0L481.6 331.2L482.1 331.0L482.2 343.7L482.4 338.0L482.8 344.8L483.0 346.0L483.4 350.0L484.0 350.0L484.0 350.3L484.6 344.1L485.0 353.0L485.2 351.9L485.6 349.0L485.8 348.4L486.4 345.0L486.4 345.1L487.0 348.9L487.2 346.0L487.6 346.4L488.0 346.0L488.2 349.6L488.8 349.0L488.8 348.6L489.4 351.0L489.6 352.0L490.0 341.3L490.4 346.0L490.6 344.3L491.2 340.0L491.2 339.7L491.8 344.6L491.9 331.0L492.4 331.4L492.9 331.0L493.0 341.1L493.2 336.0L493.6 340.4L494.0 342.0L494.2 343.2L494.8 347.0L494.8 348.0L495.4 345.8L495.6 351.0L496.0 348.8L496.6 346.0L496.6 347.3L497.1 337.0L497.2 337.0L497.8 336.6L498.1 337.0L498.4 344.0L498.4 344.2L499.0 349.0L499.0 349.1L499.6 351.9L500.0 352.0L500.2 352.7L500.8 353.4L501.0 354.0L501.4 353.4L502.0 352.0L502.0 351.7L502.6 351.1L503.0 351.0L503.2 351.0L503.8 351.4L504.0 352.0L504.4 351.3L505.0 351.0L505.0 350.8L505.6 351.8L506.0 352.0L506.2 352.2L506.8 350.8L507.0 351.0L507.4 350.7L508.0 350.4L508.0 350.7L508.6 350.3L509.0 350.0L509.2 350.3L509.8 350.7L510.0 351.0L510.4 351.5L511.0 352.0L511.0 351.6L511.6 352.1L512.0 352.4L512.2 352.4L512.8 351.8L513.0 351.6L513.4 350.9L513.6 351.0L514.0 353.4L514.4 354.0L514.6 353.2L515.2 355.0L515.2 355.7L515.8 353.4L516.0 356.0L516.4 355.9L517.0 355.6L517.0 355.2L517.6 355.8L518.0 356.0L518.2 356.0L518.8 356.0L519.0 356.4L519.4 356.4L520.0 356.0L520.0 355.7L520.6 358.0L521.0 358.0L521.2 358.4L521.8 358.5L522.0 359.0L522.4 359.3L523.0 359.6L523.6 359.5L524.0 359.6L524.2 359.8L524.8 359.4L525.4 359.6L526.0 360.0L526.0 360.2L526.6 360.2L527.2 360.5L527.8 360.0L528.0 360.4L528.4 360.1L529.0 360.5L529.6 360.1L530.0 360.2L530.2 360.5L530.8 360.0L531.4 360.0L532.0 360.4L532.0 360.4L532.6 360.3L533.2 359.8L533.8 359.8L534.0 360.0L534.4 360.4L535.0 360.4L535.6 360.2L536.0 360.2L536.2 360.1L536.8 360.0L537.4 360.1L538.0 360.0L538.0 360.3L538.6 360.1L539.2 360.0L539.8 360.0L540.4 360.5L541.0 359.9L541.6 360.4L542.0 360.4L542.2 360.3L542.8 360.5L543.4 360.3L544.0 360.5L544.6 360.5L545.2 360.2L545.8 360.4L546.0 360.4L546.4 360.5L547.0 360.1L547.6 360.8L548.2 360.7L548.8 360.3L549.4 360.0L550.0 360.4L550.0 360.5L550.6 360.4L551.2 360.5L551.8 360.1L552.4 360.6L553.0 360.7L553.6 360.4L554.0 360.4L554.2 360.3L554.8 360.0L555.4 360.1L556.0 360.3L556.6 360.4L557.2 360.1L557.8 360.8L558.0 360.4L558.4 360.5L559.0 360.3L559.6 360.4L560.2 360.4L560.8 360.4L561.4 360.7L562.0 360.4L562.0 360.8L562.6 360.6L563.2 360.0L563.8 360.1L564.4 360.1L565.0 360.4L565.6 360.1L566.0 360.4L566.2 360.4L566.8 360.0L567.4 360.4L568.0 360.4L568.6 360.0L569.2 360.4L569.8 360.3L570.0 360.4L570.4 360.3L571.0 360.0L571.6 360.2L572.2 360.5L572.8 360.0L573.4 360.5L574.0 360.2L574.0 360.3L574.6 359.4L575.2 359.2L575.4 359.0L575.8 358.7L576.0 358.0L576.4 359.1L576.6 359.6L577.0 360.1L577.6 360.2L578.0 360.4L578.2 360.0L578.8 360.5L579.4 360.6L580.0 360.6L580.6 360.3L581.2 360.3L581.8 360.4L582.0 360.4L582.4 360.3L583.0 359.9L583.6 358.9L584.2 360.5L584.8 359.7L585.0 360.0L585.4 359.7L586.0 359.0L586.0 359.5L586.6 358.4L587.0 357.0L587.2 356.4L587.6 356.4L587.8 357.0L588.4 359.0L588.4 359.6L589.0 360.3L589.2 360.0L589.6 360.3L590.0 360.4L590.2 360.6L590.8 360.7L591.4 360.5L592.0 360.3L592.6 360.2L593.2 360.8L593.8 360.8L594.0 360.4L594.4 361.0L595.0 361.0L595.6 361.4L596.2 361.3L596.8 361.6L597.0 361.6L597.0 362.0 Z" fill="#86180f"/>
<rect x="357.9" y="301.8" width="1.4" height="61.2" fill="#1a1a1a"/>
<rect x="357.9" y="361.4" width="238.1" height="1.4" fill="#1a1010"/>
<rect x="356.6" y="301.8" width="1.5" height="0.9" fill="#333"/>
<text x="355" y="305.7" text-anchor="end" style="font-family:'Liberation Sans',Arial,Helvetica,sans-serif;font-size:10.5px;font-weight:bold;stroke-width:0.1px" fill="#111" stroke="#111">100</text>
<text x="550.7" y="310.0" style="font-family:'Liberation Sans',Arial,Helvetica,sans-serif;font-size:10.5px;font-weight:bold;stroke-width:0.1px" fill="#951c1c" stroke="#951c1c">2.14E10</text>
<text x="550.7" y="322.5" style="font-family:'Liberation Sans',Arial,Helvetica,sans-serif;font-size:10.5px;font-weight:bold;stroke-width:0.1px" fill="#951c1c" stroke="#951c1c">F 5</text>
<path d="M375.6 427.8L375.6 427.4L375.6 427.2L376.0 426.0L376.2 426.2L376.8 426.1L377.0 425.6L377.4 425.3L378.0 425.0L378.0 424.1L378.6 425.5L379.0 424.4L379.2 424.4L379.8 424.3L379.9 406.0L380.0 420.0L380.4 405.8L380.9 406.0L381.0 420.0L381.0 422.1L381.6 424.0L381.6 424.3L382.2 423.3L382.8 423.0L382.8 417.3L383.4 422.4L384.0 422.0L384.0 423.3L384.6 420.9L384.8 420.0L385.1 418.0L385.2 417.8L385.8 418.4L386.1 418.0L386.4 421.0L386.4 421.8L387.0 422.0L387.0 422.4L387.6 421.4L388.0 421.0L388.2 421.2L388.8 419.8L389.0 418.0L389.1 416.0L389.4 416.4L390.0 416.1L390.1 416.0L390.4 418.0L390.6 419.8L391.0 420.0L391.2 420.2L391.8 418.8L392.0 419.0L392.4 418.9L393.0 418.0L393.0 417.8L393.6 417.7L394.0 417.0L394.2 416.8L394.8 416.7L395.0 417.0L395.4 417.3L396.0 415.0L396.0 417.4L396.6 416.0L397.0 412.0L397.2 409.9L397.5 406.0L397.8 406.0L398.4 405.9L398.5 406.0L398.6 412.0L399.0 414.0L399.0 414.1L399.6 413.7L400.0 412.0L400.1 410.0L400.2 409.7L400.8 409.8L401.1 410.0L401.4 414.0L401.4 415.1L402.0 418.0L402.0 417.7L402.6 416.2L403.0 414.0L403.2 415.5L403.8 404.0L403.8 404.4L403.9 394.0L404.4 394.2L404.9 394.0L405.0 396.3L405.2 400.0L405.6 411.3L406.0 404.0L406.2 406.0L406.8 408.0L406.8 409.1L407.4 401.3L407.6 410.0L408.0 409.5L408.4 406.0L408.6 404.1L409.0 400.0L409.1 395.6L409.2 395.4L409.8 395.5L410.1 395.6L410.4 404.0L410.4 404.7L411.0 410.0L411.0 411.3L411.6 401.6L412.0 411.0L412.2 411.8L412.8 412.4L413.0 413.0L413.4 413.6L414.0 414.0L414.0 414.2L414.6 411.1L415.0 408.0L415.2 407.8L415.5 402.0L415.8 402.1L416.4 402.0L416.5 402.0L417.0 404.0L417.0 404.6L417.6 398.7L418.0 394.0L418.2 390.0L418.5 381.6L418.8 382.0L419.4 381.4L419.5 381.6L419.8 388.0L420.0 399.0L420.6 395.0L420.6 395.3L421.2 397.5L421.4 396.0L421.8 395.0L421.9 392.0L422.4 392.0L422.9 392.0L423.0 396.8L423.2 396.0L423.6 398.7L424.0 399.0L424.2 400.4L424.8 398.6L425.0 402.0L425.4 404.4L426.0 406.0L426.0 405.8L426.6 404.9L426.8 404.0L427.2 404.4L427.6 402.0L427.8 403.1L428.4 394.0L428.4 395.7L429.0 386.0L429.0 391.0L429.1 379.0L429.6 378.7L430.1 379.0L430.2 383.4L430.4 384.0L430.8 391.2L431.0 386.0L431.4 382.4L431.8 378.0L432.0 383.1L432.4 372.0L432.5 368.0L432.6 367.8L433.2 367.8L433.5 368.0L433.8 372.0L433.8 373.7L434.4 378.0L434.4 380.0L435.0 382.0L435.0 386.5L435.6 381.2L436.0 378.0L436.2 379.3L436.5 371.6L436.8 371.2L437.4 371.7L437.5 371.6L437.8 380.0L438.0 386.0L438.4 392.0L438.6 389.8L439.2 384.0L439.2 392.6L439.5 379.0L439.8 379.0L440.4 379.0L440.5 379.0L440.8 392.0L441.0 402.3L441.6 404.0L441.6 404.4L442.2 406.5L442.4 406.0L442.8 405.3L443.0 408.0L443.4 404.4L443.6 400.0L444.0 396.6L444.2 380.0L444.5 367.6L444.6 367.6L445.2 367.2L445.5 367.6L445.8 376.0L445.8 377.8L446.4 384.0L446.4 384.5L447.0 394.0L447.0 395.0L447.6 392.7L448.0 384.0L448.2 389.8L448.5 376.0L448.8 376.0L449.4 376.0L449.5 376.0L449.8 386.0L450.0 395.4L450.4 392.0L450.6 395.9L451.0 397.0L451.2 399.2L451.8 398.2L452.0 398.0L452.4 400.2L453.0 402.0L453.0 405.3L453.6 399.9L454.0 399.0L454.2 398.2L454.8 397.7L455.0 396.0L455.4 395.3L455.6 395.0L456.0 401.1L456.4 404.0L456.6 409.8L457.0 412.0L457.2 414.6L457.8 407.9L458.0 406.0L458.4 409.4L458.5 401.0L459.0 400.9L459.5 401.0L459.6 405.0L460.0 410.0L460.2 412.5L460.8 416.2L461.0 418.0L461.4 416.2L462.0 412.0L462.0 415.2L462.5 408.0L462.6 407.6L463.2 408.0L463.5 408.0L463.8 409.9L464.0 410.0L464.4 410.9L464.5 406.0L465.0 406.2L465.5 406.0L465.6 410.6L466.0 410.0L466.2 409.8L466.8 407.5L467.0 402.0L467.1 397.0L467.4 397.1L468.0 396.7L468.1 397.0L468.4 404.0L468.6 406.3L469.0 410.0L469.2 410.7L469.8 402.5L470.0 412.0L470.4 412.7L471.0 414.0L471.0 414.4L471.6 412.0L472.0 410.0L472.2 409.9L472.8 407.7L473.0 406.0L473.1 404.0L473.4 403.6L474.0 403.6L474.1 404.0L474.4 408.0L474.6 408.9L475.2 411.0L475.2 411.4L475.8 412.1L476.0 413.0L476.4 412.2L477.0 410.0L477.0 409.9L477.5 403.0L477.6 410.2L478.0 406.0L478.2 402.9L478.5 403.0L478.8 405.7L479.0 407.0L479.4 411.7L480.0 410.0L480.0 410.9L480.6 409.5L481.0 409.0L481.2 408.7L481.8 409.1L482.0 409.0L482.4 413.0L483.0 414.0L483.0 415.4L483.6 412.7L484.0 417.0L484.2 417.0L484.8 415.0L485.0 416.4L485.4 415.9L486.0 416.0L486.0 415.9L486.6 414.0L486.8 410.0L487.1 405.0L487.2 405.0L487.8 405.0L488.1 405.0L488.4 407.0L488.4 409.0L489.0 409.0L489.0 410.3L489.6 409.1L490.0 408.0L490.2 411.8L490.5 406.0L490.8 405.8L491.4 406.4L491.5 406.0L492.0 412.0L492.0 412.3L492.6 414.3L493.0 415.0L493.2 415.2L493.8 414.1L494.0 414.0L494.4 414.1L495.0 414.0L495.0 411.8L495.6 413.7L496.0 413.0L496.2 412.3L496.8 410.8L497.0 410.0L497.4 407.7L497.5 407.0L498.0 407.4L498.5 407.0L498.6 414.6L499.0 410.0L499.2 410.4L499.8 412.2L500.0 412.0L500.4 414.5L501.0 416.0L501.0 416.3L501.6 417.0L502.0 418.0L502.2 418.3L502.8 418.1L503.0 418.4L503.4 418.6L504.0 419.0L504.0 419.3L504.6 417.8L505.0 417.0L505.2 416.4L505.8 417.6L506.0 413.0L506.1 410.4L506.4 410.2L507.0 410.5L507.1 410.4L507.4 415.0L507.6 416.9L508.0 418.0L508.2 419.4L508.8 416.3L509.0 420.0L509.4 420.1L510.0 420.4L510.0 420.2L510.6 420.6L511.0 421.0L511.2 414.0L511.6 421.0L511.8 420.3L512.4 418.0L512.4 421.3L513.0 417.2L513.2 413.0L513.5 410.4L513.6 410.5L514.2 410.8L514.5 410.4L514.8 416.0L514.8 420.7L515.4 415.8L515.6 422.0L516.0 422.9L516.6 422.3L517.0 422.6L517.2 422.5L517.8 422.8L518.0 423.0L518.4 422.9L519.0 423.4L519.6 423.2L520.0 423.4L520.2 423.7L520.8 423.7L521.0 423.6L521.4 423.9L522.0 424.0L522.0 424.1L522.6 424.6L523.2 424.6L523.8 424.6L524.0 425.0L524.4 424.9L525.0 424.6L525.6 425.0L526.0 424.6L526.2 422.2L526.8 424.3L527.4 424.4L528.0 424.0L528.0 424.0L528.6 423.4L529.0 422.0L529.1 419.6L529.2 419.7L529.8 419.4L530.1 419.6L530.4 423.0L530.4 421.2L531.0 424.0L531.0 423.7L531.6 424.5L532.2 424.2L532.8 424.4L533.0 424.6L533.4 423.9L534.0 424.8L534.6 424.6L535.2 424.9L535.8 424.9L536.0 425.0L536.4 425.1L537.0 425.0L537.6 425.3L538.0 425.4L538.2 425.2L538.8 425.9L539.4 425.2L540.0 425.6L540.0 425.4L540.6 425.7L541.2 425.6L541.8 425.6L542.0 425.8L542.4 426.1L543.0 426.1L543.6 425.7L544.0 426.0L544.2 426.1L544.8 426.1L545.4 426.1L546.0 426.0L546.0 425.7L546.6 425.7L547.2 425.9L547.8 426.3L548.4 426.0L549.0 425.9L549.6 425.9L550.0 426.2L550.2 425.9L550.8 425.9L551.4 425.9L552.0 426.3L552.6 425.8L553.2 426.0L553.8 425.9L554.0 426.2L554.4 426.4L555.0 426.5L555.6 426.4L556.2 426.2L556.8 426.4L557.4 426.3L558.0 426.4L558.0 426.5L558.6 426.4L559.2 426.1L559.8 426.1L560.4 426.7L561.0 426.8L561.6 426.3L562.0 426.4L562.2 426.4L562.8 426.3L563.4 426.1L564.0 426.2L564.6 426.6L565.2 426.4L565.8 426.4L566.0 426.4L566.4 426.7L567.0 426.4L567.6 426.2L568.2 426.3L568.8 426.1L569.4 426.6L570.0 426.4L570.0 426.6L570.6 426.7L571.2 426.4L571.8 426.2L572.4 426.6L573.0 426.4L573.6 425.5L574.0 426.4L574.2 426.5L574.8 425.9L575.4 425.2L575.4 425.8L575.5 424.0L576.0 423.9L576.5 424.0L576.6 425.2L576.6 425.9L577.2 425.6L577.8 426.2L578.0 426.4L578.4 426.5L579.0 426.6L579.6 426.3L580.2 425.9L580.8 426.2L581.0 426.0L581.4 425.8L582.0 425.7L582.6 425.9L583.0 425.6L583.2 425.2L583.8 423.3L584.4 425.0L585.0 425.0L585.0 425.2L585.6 424.6L586.0 423.6L586.2 423.3L586.8 422.0L586.8 422.5L587.4 421.0L587.4 421.6L587.5 419.6L588.0 419.7L588.5 419.6L588.6 422.0L588.6 422.3L589.2 424.0L589.2 424.0L589.8 425.1L590.0 425.0L590.4 425.5L591.0 425.4L591.6 425.7L592.0 425.6L592.2 425.1L592.8 425.6L593.4 426.0L594.0 426.0L594.0 426.0L594.6 425.9L595.0 426.4L595.2 426.4L595.8 426.7L596.4 426.6L597.0 427.2L597.0 427.4L597.0 427.8 Z" fill="#86180f"/>
<rect x="357.9" y="367.0" width="1.4" height="61.8" fill="#1a1a1a"/>
<rect x="357.9" y="427.2" width="238.1" height="1.4" fill="#1a1010"/>
<rect x="356.6" y="367.0" width="1.5" height="0.9" fill="#333"/>
<text x="355" y="371.1" text-anchor="end" style="font-family:'Liberation Sans',Arial,Helvetica,sans-serif;font-size:10.5px;font-weight:bold;stroke-width:0.1px" fill="#111" stroke="#111">100</text>
<text x="550.7" y="376.0" style="font-family:'Liberation Sans',Arial,Helvetica,sans-serif;font-size:10.5px;font-weight:bold;stroke-width:0.1px" fill="#951c1c" stroke="#951c1c">2.40E10</text>
<text x="550.7" y="388.1" style="font-family:'Liberation Sans',Arial,Helvetica,sans-serif;font-size:10.5px;font-weight:bold;stroke-width:0.1px" fill="#951c1c" stroke="#951c1c">F 6</text>
<text x="67.3" y="306.2" text-anchor="middle" style="font-family:'Liberation Sans',Arial,Helvetica,sans-serif;font-size:10px;font-weight:bold" fill="#111">10</text>
<text x="375.0" y="440.2" text-anchor="middle" style="font-family:'Liberation Sans',Arial,Helvetica,sans-serif;font-size:10px;font-weight:bold" fill="#111">10</text>
<text x="88.8" y="306.2" text-anchor="middle" style="font-family:'Liberation Sans',Arial,Helvetica,sans-serif;font-size:10px;font-weight:bold" fill="#111">20</text>
<text x="396.5" y="440.2" text-anchor="middle" style="font-family:'Liberation Sans',Arial,Helvetica,sans-serif;font-size:10px;font-weight:bold" fill="#111">20</text>
<text x="110.3" y="306.2" text-anchor="middle" style="font-family:'Liberation Sans',Arial,Helvetica,sans-serif;font-size:10px;font-weight:bold" fill="#111">30</text>
<text x="418.0" y="440.2" text-anchor="middle" style="font-family:'Liberation Sans',Arial,Helvetica,sans-serif;font-size:10px;font-weight:bold" fill="#111">30</text>
<text x="131.8" y="306.2" text-anchor="middle" style="font-family:'Liberation Sans',Arial,Helvetica,sans-serif;font-size:10px;font-weight:bold" fill="#111">40</text>
<text x="439.6" y="440.2" text-anchor="middle" style="font-family:'Liberation Sans',Arial,Helvetica,sans-serif;font-size:10px;font-weight:bold" fill="#111">40</text>
<text x="153.3" y="306.2" text-anchor="middle" style="font-family:'Liberation Sans',Arial,Helvetica,sans-serif;font-size:10px;font-weight:bold" fill="#111">50</text>
<text x="461.1" y="440.2" text-anchor="middle" style="font-family:'Liberation Sans',Arial,Helvetica,sans-serif;font-size:10px;font-weight:bold" fill="#111">50</text>
<text x="174.8" y="306.2" text-anchor="middle" style="font-family:'Liberation Sans',Arial,Helvetica,sans-serif;font-size:10px;font-weight:bold" fill="#111">60</text>
<text x="482.6" y="440.2" text-anchor="middle" style="font-family:'Liberation Sans',Arial,Helvetica,sans-serif;font-size:10px;font-weight:bold" fill="#111">60</text>
<text x="196.3" y="306.2" text-anchor="middle" style="font-family:'Liberation Sans',Arial,Helvetica,sans-serif;font-size:10px;font-weight:bold" fill="#111">70</text>
<text x="504.1" y="440.2" text-anchor="middle" style="font-family:'Liberation Sans',Arial,Helvetica,sans-serif;font-size:10px;font-weight:bold" fill="#111">70</text>
<text x="217.8" y="306.2" text-anchor="middle" style="font-family:'Liberation Sans',Arial,Helvetica,sans-serif;font-size:10px;font-weight:bold" fill="#111">80</text>
<text x="525.6" y="440.2" text-anchor="middle" style="font-family:'Liberation Sans',Arial,Helvetica,sans-serif;font-size:10px;font-weight:bold" fill="#111">80</text>
<text x="239.3" y="306.2" text-anchor="middle" style="font-family:'Liberation Sans',Arial,Helvetica,sans-serif;font-size:10px;font-weight:bold" fill="#111">90</text>
<text x="547.2" y="440.2" text-anchor="middle" style="font-family:'Liberation Sans',Arial,Helvetica,sans-serif;font-size:10px;font-weight:bold" fill="#111">90</text>
<text x="260.8" y="306.2" text-anchor="middle" style="font-family:'Liberation Sans',Arial,Helvetica,sans-serif;font-size:10px;font-weight:bold" fill="#111">100</text>
<text x="568.7" y="440.2" text-anchor="middle" style="font-family:'Liberation Sans',Arial,Helvetica,sans-serif;font-size:10px;font-weight:bold" fill="#111">100</text>
<text x="282.3" y="306.2" text-anchor="middle" style="font-family:'Liberation Sans',Arial,Helvetica,sans-serif;font-size:10px;font-weight:bold" fill="#111">110</text>
<text x="590.2" y="440.2" text-anchor="middle" style="font-family:'Liberation Sans',Arial,Helvetica,sans-serif;font-size:10px;font-weight:bold" fill="#111">110</text>
<text x="178.1" y="322.2" text-anchor="middle" style="font-family:'Liberation Sans',Arial,Helvetica,sans-serif;font-size:12px;font-weight:bold" fill="#111">Time (min)</text>
<text x="485" y="456" text-anchor="middle" style="font-family:'Liberation Sans',Arial,Helvetica,sans-serif;font-size:12px;font-weight:bold" fill="#111">Time (min)</text>
<text transform="translate(23.5,166.9) rotate(-90)" text-anchor="middle" style="font-family:'Liberation Sans',Arial,Helvetica,sans-serif;font-size:12.3px;font-weight:bold" fill="#111">Relative Abundance</text>
<text transform="translate(328.9,166.9) rotate(-90)" text-anchor="middle" style="font-family:'Liberation Sans',Arial,Helvetica,sans-serif;font-size:12.3px;font-weight:bold" fill="#111">Relative Abundance</text></svg>
</body></html>
